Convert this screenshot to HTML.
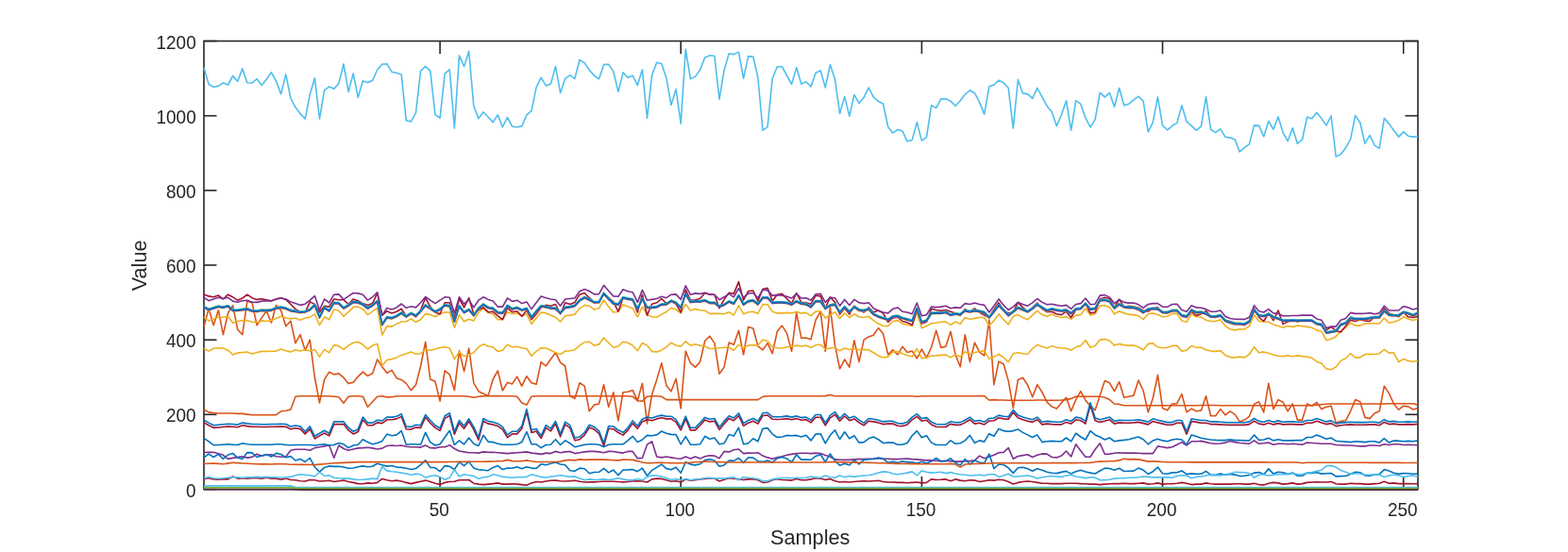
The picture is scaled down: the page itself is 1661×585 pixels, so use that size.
<!DOCTYPE html>
<html><head><meta charset="utf-8"><title>Samples / Value</title>
<style>
html,body{margin:0;padding:0;background:#fff;}
body{width:1661px;height:585px;overflow:hidden;}
svg{display:block;}
text{font-family:"Liberation Sans",sans-serif;fill:#262626;}
.t{font-size:20px;}
.l{font-size:22.6px;}
</style></head><body>
<svg width="1661" height="585" viewBox="0 0 1661 585">
<rect width="1661" height="585" fill="#fff"/>
<g stroke="#262626" stroke-width="1.6" fill="none">
<rect x="216.0" y="43.5" width="1286.0" height="475.0"/>
<line x1="466.1" y1="518.5" x2="466.1" y2="505.0"/>
<line x1="466.1" y1="43.5" x2="466.1" y2="57.0"/>
<line x1="721.2" y1="518.5" x2="721.2" y2="505.0"/>
<line x1="721.2" y1="43.5" x2="721.2" y2="57.0"/>
<line x1="976.4" y1="518.5" x2="976.4" y2="505.0"/>
<line x1="976.4" y1="43.5" x2="976.4" y2="57.0"/>
<line x1="1231.5" y1="518.5" x2="1231.5" y2="505.0"/>
<line x1="1231.5" y1="43.5" x2="1231.5" y2="57.0"/>
<line x1="1486.7" y1="518.5" x2="1486.7" y2="505.0"/>
<line x1="1486.7" y1="43.5" x2="1486.7" y2="57.0"/>
<line x1="216.0" y1="518.5" x2="229.5" y2="518.5"/>
<line x1="1502.0" y1="518.5" x2="1488.5" y2="518.5"/>
<line x1="216.0" y1="439.3" x2="229.5" y2="439.3"/>
<line x1="1502.0" y1="439.3" x2="1488.5" y2="439.3"/>
<line x1="216.0" y1="360.2" x2="229.5" y2="360.2"/>
<line x1="1502.0" y1="360.2" x2="1488.5" y2="360.2"/>
<line x1="216.0" y1="281.0" x2="229.5" y2="281.0"/>
<line x1="1502.0" y1="281.0" x2="1488.5" y2="281.0"/>
<line x1="216.0" y1="201.8" x2="229.5" y2="201.8"/>
<line x1="1502.0" y1="201.8" x2="1488.5" y2="201.8"/>
<line x1="216.0" y1="122.7" x2="229.5" y2="122.7"/>
<line x1="1502.0" y1="122.7" x2="1488.5" y2="122.7"/>
<line x1="216.0" y1="43.5" x2="229.5" y2="43.5"/>
<line x1="1502.0" y1="43.5" x2="1488.5" y2="43.5"/>
</g>
<g fill="none" stroke-linejoin="round" stroke-linecap="butt">
<polyline points="216.0,346.4 221.1,326.9 226.2,344.7 231.3,328.7 236.4,354.7 241.5,331.8 246.6,323.6 251.7,349.1 256.8,354.7 261.9,319.1 267.0,320.7 272.1,344.7 277.2,336.9 282.3,329.6 287.4,342.0 292.5,323.6 297.7,329.1 302.8,345.8 307.9,340.2 313.0,363.6 318.1,354.7 323.2,371.3 328.3,360.2 333.4,400.0 338.5,426.9 343.6,402.4 348.7,394.2 353.8,396.9 358.9,395.8 364.0,400.2 369.1,406.4 374.2,405.3 379.3,399.1 384.4,394.2 389.5,398.4 394.6,395.8 399.7,380.9 404.8,388.7 409.9,395.3 415.0,392.4 420.1,400.7 425.2,402.4 430.3,406.4 435.4,413.6 440.5,408.0 445.6,388.0 450.7,362.4 455.8,402.0 461.0,404.2 466.1,425.1 471.2,392.9 476.3,396.9 481.4,413.6 486.5,371.8 491.6,393.6 496.7,369.1 501.8,405.8 506.9,414.7 512.0,417.3 517.1,419.6 522.2,402.0 527.3,392.9 532.4,414.0 537.5,405.3 542.6,406.9 547.7,399.1 552.8,409.1 557.9,398.7 563.0,405.8 568.1,407.3 573.2,383.6 578.3,388.0 583.4,380.7 588.5,373.6 593.6,384.2 598.7,388.0 603.8,419.8 608.9,422.4 614.0,405.8 619.2,409.1 624.3,435.8 629.4,429.1 634.5,428.0 639.6,407.6 644.7,431.3 649.8,415.8 654.9,445.8 660.0,415.8 665.1,415.3 670.2,413.6 675.3,424.7 680.4,406.2 685.5,448.9 690.6,418.0 695.7,402.4 700.8,384.7 705.9,408.4 711.0,414.7 716.1,401.3 721.2,432.9 726.3,372.0 731.4,384.7 736.5,389.1 741.6,383.6 746.7,361.3 751.8,356.2 756.9,363.6 762.0,396.2 767.1,389.1 772.2,363.1 777.3,365.3 782.5,350.2 787.6,375.8 792.7,346.4 797.8,348.0 802.9,366.9 808.0,370.9 813.1,363.6 818.2,374.7 823.3,351.3 828.4,345.1 833.5,353.1 838.6,372.4 843.7,331.3 848.8,358.4 853.9,358.0 859.0,359.8 864.1,339.1 869.2,330.2 874.3,372.4 879.4,325.8 884.5,365.8 889.6,390.9 894.7,380.9 899.8,389.1 904.9,360.7 910.0,383.6 915.1,360.2 920.2,356.9 925.3,355.3 930.4,347.6 935.5,353.6 940.7,375.8 945.8,370.9 950.9,375.8 956.0,367.3 961.1,373.6 966.2,372.0 971.3,379.8 976.4,370.2 981.5,379.1 986.6,368.0 991.7,350.2 996.8,368.4 1001.9,367.3 1007.0,351.3 1012.1,375.8 1017.2,388.7 1022.3,354.7 1027.4,383.6 1032.5,363.1 1037.6,373.1 1042.7,376.9 1047.8,339.1 1052.9,407.6 1058.0,383.1 1063.1,385.8 1068.2,403.6 1073.3,432.4 1078.4,402.4 1083.5,400.2 1088.6,408.0 1093.7,420.7 1098.8,407.6 1104.0,415.8 1109.1,426.2 1114.2,430.9 1119.3,433.1 1124.4,426.9 1129.5,421.3 1134.6,435.8 1139.7,423.6 1144.8,414.7 1149.9,424.2 1155.0,430.2 1160.1,434.7 1165.2,419.1 1170.3,403.6 1175.4,405.8 1180.5,414.7 1185.6,404.7 1190.7,421.3 1195.8,420.2 1200.9,419.1 1206.0,403.1 1211.1,414.0 1216.2,436.9 1221.3,422.0 1226.4,397.3 1231.5,432.4 1236.6,434.7 1241.7,428.0 1246.8,427.6 1251.9,417.6 1257.0,436.9 1262.2,433.1 1267.3,435.8 1272.4,434.9 1277.5,419.7 1282.6,440.8 1287.7,440.8 1292.8,433.6 1297.9,439.8 1303.0,435.8 1308.1,439.1 1313.2,446.9 1318.3,445.1 1323.4,441.3 1328.5,428.4 1333.6,425.8 1338.7,436.9 1343.8,406.4 1348.9,433.6 1354.0,423.6 1359.1,426.2 1364.2,435.8 1369.3,428.0 1374.4,445.1 1379.5,445.1 1384.6,428.0 1389.7,430.2 1394.8,426.4 1399.9,433.6 1405.0,431.3 1410.1,430.2 1415.2,448.0 1420.3,446.4 1425.5,445.8 1430.6,435.8 1435.7,423.6 1440.8,425.8 1445.9,442.4 1451.0,443.6 1456.1,438.0 1461.2,435.8 1466.3,409.1 1471.4,416.9 1476.5,428.0 1481.6,434.2 1486.7,430.2 1491.8,430.9 1496.9,434.0 1502.0,432.4" stroke="#D95319" stroke-width="1.6"/>
<polyline points="216.0,434.0 221.1,436.9 226.2,437.6 231.3,438.0 236.4,438.0 241.5,438.0 246.6,438.0 251.7,438.4 256.8,438.4 261.9,439.1 267.0,439.8 272.1,439.8 277.2,439.8 282.3,439.8 287.4,439.8 292.5,439.6 297.7,435.8 302.8,435.3 307.9,434.0 313.0,420.2 318.1,419.8 323.2,419.8 328.3,419.8 333.4,419.8 338.5,419.8 343.6,419.8 348.7,419.8 353.8,420.2 358.9,420.7 364.0,427.3 369.1,420.2 374.2,419.8 379.3,419.8 384.4,420.2 389.5,431.3 394.6,425.8 399.7,420.2 404.8,419.8 409.9,420.9 415.0,420.7 420.1,419.8 425.2,419.8 430.3,419.8 435.4,419.8 440.5,419.8 445.6,419.8 450.7,419.8 455.8,419.8 461.0,419.8 466.1,419.8 471.2,419.8 476.3,419.8 481.4,419.8 486.5,419.8 491.6,419.8 496.7,420.2 501.8,421.3 506.9,420.2 512.0,419.8 517.1,419.8 522.2,419.6 527.3,419.6 532.4,419.8 537.5,419.8 542.6,419.8 547.7,420.2 552.8,426.9 557.9,429.1 563.0,420.2 568.1,419.8 573.2,419.8 578.3,419.8 583.4,419.8 588.5,419.8 593.6,419.8 598.7,419.8 603.8,419.8 608.9,419.8 614.0,419.8 619.2,419.8 624.3,419.8 629.4,419.8 634.5,419.8 639.6,419.8 644.7,419.8 649.8,419.8 654.9,419.8 660.0,419.8 665.1,419.8 670.2,420.2 675.3,424.7 680.4,425.1 685.5,420.2 690.6,419.8 695.7,419.8 700.8,420.2 705.9,423.6 711.0,423.6 716.1,423.6 721.2,423.6 726.3,423.6 731.4,423.6 736.5,423.6 741.6,423.6 746.7,423.6 751.8,423.6 756.9,423.6 762.0,423.6 767.1,423.6 772.2,423.6 777.3,423.6 782.5,423.6 787.6,423.6 792.7,423.6 797.8,423.6 802.9,423.6 808.0,420.4 813.1,419.8 818.2,419.8 823.3,419.8 828.4,419.8 833.5,419.8 838.6,419.8 843.7,419.8 848.8,419.8 853.9,419.8 859.0,419.8 864.1,419.8 869.2,419.8 874.3,419.6 879.4,418.4 884.5,419.8 889.6,419.8 894.7,419.8 899.8,419.8 904.9,419.8 910.0,419.8 915.1,419.8 920.2,419.8 925.3,419.8 930.4,419.8 935.5,419.8 940.7,419.8 945.8,419.8 950.9,419.8 956.0,419.8 961.1,419.8 966.2,419.8 971.3,420.2 976.4,419.8 981.5,419.8 986.6,419.8 991.7,419.8 996.8,419.8 1001.9,419.8 1007.0,419.8 1012.1,419.8 1017.2,419.8 1022.3,419.8 1027.4,419.8 1032.5,419.8 1037.6,419.6 1042.7,419.6 1047.8,424.0 1052.9,423.6 1058.0,424.0 1063.1,424.0 1068.2,424.2 1073.3,424.2 1078.4,424.2 1083.5,424.2 1088.6,424.2 1093.7,424.2 1098.8,424.0 1104.0,424.0 1109.1,424.2 1114.2,424.2 1119.3,424.2 1124.4,424.0 1129.5,423.6 1134.6,422.4 1139.7,420.2 1144.8,420.2 1149.9,420.2 1155.0,420.2 1160.1,420.2 1165.2,420.2 1170.3,421.3 1175.4,423.6 1180.5,428.0 1185.6,428.4 1190.7,429.8 1195.8,429.8 1200.9,429.8 1206.0,429.8 1211.1,429.8 1216.2,429.8 1221.3,429.8 1226.4,429.8 1231.5,429.8 1236.6,429.8 1241.7,429.8 1246.8,429.8 1251.9,429.8 1257.0,429.8 1262.2,429.8 1267.3,429.8 1272.4,429.5 1277.5,429.5 1282.6,429.5 1287.7,429.5 1292.8,429.8 1297.9,429.8 1303.0,429.8 1308.1,429.8 1313.2,429.8 1318.3,429.8 1323.4,429.8 1328.5,429.8 1333.6,429.8 1338.7,429.8 1343.8,429.8 1348.9,429.8 1354.0,429.8 1359.1,429.8 1364.2,429.8 1369.3,429.8 1374.4,429.8 1379.5,429.8 1384.6,429.8 1389.7,429.6 1394.8,429.1 1399.9,428.7 1405.0,428.2 1410.1,428.0 1415.2,428.0 1420.3,428.0 1425.5,428.0 1430.6,428.0 1435.7,428.0 1440.8,428.0 1445.9,428.0 1451.0,428.0 1456.1,428.0 1461.2,428.0 1466.3,428.0 1471.4,427.8 1476.5,427.8 1481.6,427.8 1486.7,427.8 1491.8,427.8 1496.9,427.8 1502.0,429.1" stroke="#D95319" stroke-width="1.6"/>
<polyline points="216.0,369.5 221.1,372.1 226.2,369.2 231.3,368.8 236.4,369.0 241.5,371.2 246.6,375.9 251.7,374.1 256.8,373.5 261.9,373.1 267.0,375.0 272.1,373.5 277.2,372.4 282.3,372.4 287.4,372.3 292.5,372.1 297.7,369.9 302.8,371.8 307.9,372.9 313.0,370.7 318.1,372.1 323.2,370.4 328.3,372.1 333.4,370.4 338.5,378.1 343.6,370.4 348.7,373.8 353.8,365.6 358.9,366.6 364.0,370.4 369.1,366.1 374.2,363.2 379.3,362.2 384.4,365.3 389.5,370.0 394.6,366.1 399.7,364.4 404.8,387.5 409.9,381.5 415.0,380.6 420.1,378.9 425.2,376.4 430.3,374.7 435.4,372.9 440.5,375.2 445.6,374.7 450.7,370.4 455.8,371.2 461.0,370.0 466.1,368.3 471.2,367.8 476.3,369.0 481.4,380.6 486.5,372.9 491.6,377.6 496.7,375.9 501.8,373.8 506.9,367.8 512.0,364.7 517.1,367.0 522.2,367.8 527.3,372.4 532.4,371.2 537.5,365.3 542.6,367.8 547.7,367.3 552.8,368.7 557.9,369.5 563.0,377.2 568.1,372.4 573.2,368.7 578.3,369.0 583.4,371.2 588.5,373.8 593.6,375.5 598.7,372.1 603.8,371.8 608.9,370.7 614.0,366.1 619.2,362.7 624.3,362.2 629.4,366.1 634.5,364.9 639.6,358.1 644.7,363.2 649.8,368.3 654.9,367.0 660.0,362.2 665.1,363.2 670.2,366.1 675.3,371.8 680.4,363.5 685.5,366.1 690.6,372.4 695.7,372.9 700.8,371.2 705.9,367.8 711.0,363.2 716.1,366.1 721.2,367.0 726.3,361.8 731.4,366.1 736.5,364.7 741.6,366.1 746.7,367.0 751.8,369.5 756.9,369.5 762.0,368.7 767.1,368.3 772.2,368.3 777.3,371.2 782.5,365.3 787.6,368.7 792.7,366.1 797.8,365.6 802.9,366.1 808.0,360.1 813.1,361.5 818.2,367.8 823.3,368.7 828.4,369.0 833.5,367.8 838.6,367.3 843.7,366.1 848.8,367.0 853.9,366.1 859.0,368.3 864.1,365.6 869.2,365.3 874.3,370.0 879.4,369.0 884.5,368.3 889.6,371.8 894.7,369.0 899.8,370.4 904.9,369.5 910.0,370.7 915.1,370.4 920.2,370.7 925.3,373.8 930.4,376.9 935.5,378.9 940.7,378.1 945.8,372.9 950.9,372.6 956.0,374.7 961.1,376.4 966.2,378.1 971.3,369.5 976.4,379.8 981.5,378.9 986.6,377.2 991.7,376.9 996.8,376.4 1001.9,376.0 1007.0,378.9 1012.1,375.9 1017.2,378.1 1022.3,372.9 1027.4,375.2 1032.5,373.5 1037.6,372.4 1042.7,371.8 1047.8,380.3 1052.9,378.1 1058.0,375.5 1063.1,378.9 1068.2,383.7 1073.3,374.7 1078.4,373.8 1083.5,374.7 1088.6,375.2 1093.7,369.5 1098.8,365.3 1104.0,367.3 1109.1,369.0 1114.2,366.6 1119.3,368.3 1124.4,369.0 1129.5,369.0 1134.6,371.2 1139.7,367.8 1144.8,366.6 1149.9,360.5 1155.0,368.3 1160.1,366.6 1165.2,360.1 1170.3,359.6 1175.4,361.0 1180.5,366.1 1185.6,364.4 1190.7,365.6 1195.8,366.1 1200.9,366.1 1206.0,367.8 1211.1,370.7 1216.2,364.4 1221.3,363.9 1226.4,367.8 1231.5,368.7 1236.6,368.3 1241.7,366.4 1246.8,366.4 1251.9,372.1 1257.0,371.2 1262.2,366.6 1267.3,368.3 1272.4,368.3 1277.5,370.7 1282.6,372.1 1287.7,372.4 1292.8,371.6 1297.9,376.4 1303.0,378.6 1308.1,378.9 1313.2,378.1 1318.3,378.9 1323.4,375.5 1328.5,367.8 1333.6,373.8 1338.7,372.9 1343.8,374.3 1348.9,376.0 1354.0,377.2 1359.1,377.6 1364.2,376.9 1369.3,377.7 1374.4,376.9 1379.5,377.6 1384.6,378.1 1389.7,379.3 1394.8,383.2 1399.9,384.9 1405.0,390.9 1410.1,391.8 1415.2,388.9 1420.3,382.4 1425.5,379.8 1430.6,374.7 1435.7,378.9 1440.8,378.9 1445.9,375.5 1451.0,375.2 1456.1,375.5 1461.2,374.7 1466.3,370.4 1471.4,374.1 1476.5,373.8 1481.6,383.7 1486.7,380.3 1491.8,382.4 1496.9,383.2 1502.0,382.0" stroke="#EDB120" stroke-width="1.6"/>
<polyline points="216.0,336.2 221.1,339.9 226.2,337.9 231.3,336.2 236.4,336.2 241.5,335.3 246.6,342.2 251.7,340.5 256.8,339.6 261.9,339.6 267.0,341.3 272.1,341.8 277.2,339.9 282.3,340.5 287.4,339.6 292.5,337.5 297.7,335.3 302.8,337.0 307.9,337.9 313.0,337.0 318.1,339.3 323.2,337.0 328.3,336.2 333.4,332.8 338.5,344.7 343.6,335.8 348.7,338.7 353.8,328.0 358.9,329.3 364.0,335.3 369.1,330.7 374.2,325.6 379.3,325.1 384.4,327.6 389.5,333.6 394.6,330.2 399.7,326.4 404.8,355.0 409.9,345.6 415.0,346.1 420.1,343.4 425.2,341.0 430.3,340.8 435.4,337.9 440.5,341.3 445.6,338.7 450.7,332.4 455.8,333.6 461.0,335.8 466.1,332.8 471.2,330.7 476.3,331.0 481.4,347.3 486.5,333.6 491.6,340.8 496.7,338.2 501.8,339.9 506.9,331.0 512.0,326.8 517.1,331.4 522.2,332.8 527.3,338.7 532.4,338.7 537.5,330.5 542.6,332.8 547.7,331.9 552.8,334.8 557.9,332.8 563.0,343.4 568.1,337.0 573.2,331.0 578.3,331.9 583.4,334.1 588.5,336.2 593.6,341.0 598.7,334.8 603.8,334.1 608.9,333.1 614.0,326.8 619.2,323.4 624.3,324.2 629.4,328.0 634.5,326.8 639.6,318.2 644.7,325.1 649.8,331.0 654.9,330.2 660.0,322.8 665.1,325.1 670.2,326.8 675.3,335.8 680.4,325.1 685.5,333.6 690.6,335.8 695.7,336.2 700.8,333.1 705.9,330.5 711.0,326.3 716.1,328.0 721.2,331.9 726.3,322.5 731.4,329.0 736.5,327.6 741.6,328.8 746.7,329.3 751.8,332.4 756.9,332.2 762.0,332.4 767.1,332.8 772.2,330.7 777.3,334.0 782.5,323.9 787.6,332.8 792.7,330.7 797.8,330.2 802.9,332.2 808.0,322.5 813.1,322.8 818.2,330.2 823.3,331.9 828.4,331.9 833.5,331.4 838.6,331.9 843.7,330.2 848.8,331.9 853.9,331.4 859.0,334.8 864.1,330.2 869.2,329.7 874.3,337.0 879.4,333.6 884.5,330.7 889.6,337.4 894.7,331.9 899.8,336.5 904.9,332.8 910.0,335.8 915.1,336.5 920.2,335.3 925.3,339.6 930.4,343.0 935.5,345.2 940.7,345.6 945.8,340.5 950.9,339.6 956.0,343.0 961.1,344.2 966.2,345.6 971.3,331.0 976.4,347.8 981.5,345.6 986.6,342.7 991.7,342.2 996.8,341.3 1001.9,340.8 1007.0,344.4 1012.1,341.0 1017.2,343.4 1022.3,336.5 1027.4,338.2 1032.5,337.4 1037.6,336.5 1042.7,336.5 1047.8,345.2 1052.9,339.9 1058.0,332.8 1063.1,338.7 1068.2,343.9 1073.3,335.3 1078.4,333.6 1083.5,336.5 1088.6,338.7 1093.7,334.1 1098.8,329.3 1104.0,333.6 1109.1,335.3 1114.2,333.1 1119.3,335.3 1124.4,336.5 1129.5,335.8 1134.6,338.4 1139.7,334.1 1144.8,333.6 1149.9,326.8 1155.0,334.1 1160.1,332.8 1165.2,323.9 1170.3,323.7 1175.4,325.4 1180.5,332.8 1185.6,329.7 1190.7,331.9 1195.8,333.1 1200.9,333.6 1206.0,334.8 1211.1,338.4 1216.2,332.8 1221.3,331.9 1226.4,333.6 1231.5,335.8 1236.6,335.3 1241.7,332.4 1246.8,332.4 1251.9,339.9 1257.0,341.3 1262.2,332.8 1267.3,335.8 1272.4,335.8 1277.5,339.3 1282.6,340.5 1287.7,340.5 1292.8,338.7 1297.9,345.6 1303.0,348.7 1308.1,349.9 1313.2,348.7 1318.3,349.0 1323.4,345.6 1328.5,333.6 1333.6,340.5 1338.7,341.0 1343.8,341.3 1348.9,343.9 1354.0,345.6 1359.1,347.3 1364.2,345.6 1369.3,346.4 1374.4,345.1 1379.5,345.6 1384.6,346.4 1389.7,347.3 1394.8,349.9 1399.9,351.2 1405.0,360.5 1410.1,359.3 1415.2,356.7 1420.3,350.7 1425.5,347.3 1430.6,342.2 1435.7,345.1 1440.8,345.1 1445.9,343.0 1451.0,342.7 1456.1,342.7 1461.2,343.0 1466.3,337.0 1471.4,342.2 1476.5,341.3 1481.6,339.6 1486.7,335.8 1491.8,337.9 1496.9,339.6 1502.0,337.9" stroke="#EDB120" stroke-width="1.6"/>
<polyline points="216.0,507.4 221.1,506.8 226.2,507.9 231.3,508.3 236.4,507.9 241.5,507.9 246.6,505.0 251.7,507.1 256.8,506.8 261.9,507.1 267.0,506.8 272.1,506.8 277.2,507.1 282.3,506.2 287.4,507.1 292.5,507.1 297.7,508.3 302.8,507.1 307.9,508.5 313.0,508.8 318.1,509.7 323.2,510.0 328.3,508.5 333.4,508.8 338.5,510.0 343.6,509.7 348.7,509.3 353.8,510.5 358.9,509.7 364.0,509.1 369.1,510.5 374.2,511.4 379.3,512.6 384.4,512.7 389.5,511.9 394.6,512.2 399.7,511.4 404.8,507.4 409.9,508.8 415.0,509.7 420.1,509.1 425.2,510.0 430.3,511.4 435.4,512.6 440.5,511.4 445.6,510.2 450.7,509.1 455.8,510.5 461.0,512.2 466.1,513.4 471.2,511.4 476.3,510.5 481.4,510.2 486.5,508.8 491.6,508.8 496.7,508.5 501.8,512.2 506.9,513.1 512.0,513.6 517.1,513.1 522.2,512.6 527.3,511.9 532.4,513.1 537.5,513.1 542.6,512.7 547.7,513.1 552.8,513.6 557.9,514.3 563.0,511.9 568.1,510.5 573.2,511.0 578.3,510.0 583.4,509.3 588.5,509.1 593.6,509.7 598.7,510.0 603.8,509.7 608.9,509.3 614.0,510.2 619.2,511.0 624.3,510.9 629.4,510.9 634.5,510.5 639.6,510.2 644.7,510.2 649.8,510.2 654.9,510.5 660.0,510.9 665.1,510.5 670.2,510.0 675.3,509.7 680.4,510.0 685.5,511.0 690.6,507.9 695.7,507.1 700.8,507.4 705.9,508.8 711.0,510.2 716.1,509.7 721.2,511.0 726.3,507.9 731.4,509.1 736.5,508.8 741.6,507.9 746.7,507.4 751.8,506.8 756.9,507.1 762.0,510.0 767.1,508.3 772.2,506.8 777.3,507.1 782.5,507.9 787.6,508.5 792.7,507.9 797.8,507.6 802.9,508.8 808.0,511.4 813.1,511.0 818.2,508.8 823.3,507.6 828.4,508.5 833.5,508.8 838.6,509.1 843.7,507.4 848.8,508.8 853.9,508.8 859.0,507.9 864.1,506.8 869.2,507.1 874.3,508.5 879.4,507.4 884.5,509.7 889.6,511.0 894.7,510.5 899.8,511.0 904.9,510.5 910.0,510.0 915.1,509.7 920.2,510.0 925.3,509.7 930.4,509.3 935.5,510.5 940.7,511.0 945.8,511.0 950.9,511.4 956.0,511.4 961.1,511.7 966.2,511.4 971.3,511.0 976.4,511.9 981.5,511.4 986.6,507.9 991.7,508.5 996.8,508.3 1001.9,507.9 1007.0,509.7 1012.1,507.9 1017.2,509.1 1022.3,509.7 1027.4,508.8 1032.5,509.1 1037.6,510.5 1042.7,509.7 1047.8,508.8 1052.9,509.1 1058.0,508.3 1063.1,508.8 1068.2,510.5 1073.3,513.1 1078.4,511.4 1083.5,510.5 1088.6,510.0 1093.7,510.5 1098.8,511.4 1104.0,512.2 1109.1,512.2 1114.2,512.6 1119.3,512.6 1124.4,512.6 1129.5,512.2 1134.6,512.2 1139.7,512.2 1144.8,512.6 1149.9,512.7 1155.0,513.1 1160.1,513.1 1165.2,513.6 1170.3,513.1 1175.4,512.7 1180.5,512.6 1185.6,512.6 1190.7,512.2 1195.8,512.6 1200.9,512.6 1206.0,512.2 1211.1,511.9 1216.2,513.1 1221.3,512.7 1226.4,511.9 1231.5,513.1 1236.6,512.7 1241.7,512.6 1246.8,512.2 1251.9,511.4 1257.0,512.2 1262.2,513.6 1267.3,513.1 1272.4,513.1 1277.5,511.9 1282.6,512.7 1287.7,513.1 1292.8,513.1 1297.9,513.1 1303.0,513.1 1308.1,512.7 1313.2,512.7 1318.3,513.1 1323.4,513.1 1328.5,512.2 1333.6,513.6 1338.7,513.9 1343.8,512.2 1348.9,511.4 1354.0,511.9 1359.1,513.1 1364.2,512.6 1369.3,511.9 1374.4,513.1 1379.5,512.6 1384.6,511.4 1389.7,511.0 1394.8,510.9 1399.9,511.0 1405.0,511.0 1410.1,510.5 1415.2,512.7 1420.3,513.1 1425.5,513.1 1430.6,512.2 1435.7,512.6 1440.8,512.6 1445.9,513.1 1451.0,513.1 1456.1,512.6 1461.2,512.2 1466.3,510.2 1471.4,512.2 1476.5,511.9 1481.6,512.6 1486.7,512.6 1491.8,512.6 1496.9,512.7 1502.0,512.6" stroke="#A2142F" stroke-width="1.6"/>
<polyline points="216.0,479.5 221.1,479.4 226.2,479.2 231.3,480.8 236.4,482.3 241.5,486.4 246.6,485.4 251.7,484.6 256.8,483.8 261.9,485.1 267.0,484.4 272.1,481.2 277.2,483.3 282.3,482.0 287.4,481.7 292.5,483.8 297.7,484.3 302.8,484.0 307.9,477.2 313.0,476.3 318.1,476.3 323.2,476.3 328.3,477.2 333.4,474.6 338.5,473.7 343.6,472.9 348.7,472.0 353.8,485.2 358.9,472.0 364.0,475.5 369.1,477.2 374.2,476.0 379.3,474.9 384.4,474.6 389.5,474.3 394.6,474.9 399.7,476.0 404.8,475.1 409.9,472.5 415.0,472.0 420.1,472.5 425.2,472.0 430.3,473.2 435.4,473.7 440.5,473.7 445.6,474.1 450.7,472.0 455.8,474.6 461.0,474.9 466.1,473.7 471.2,473.7 476.3,471.7 481.4,475.5 486.5,478.0 491.6,478.9 496.7,479.7 501.8,479.7 506.9,480.1 512.0,478.9 517.1,479.4 522.2,479.2 527.3,479.7 532.4,480.1 537.5,480.6 542.6,480.1 547.7,479.7 552.8,479.4 557.9,478.9 563.0,480.1 568.1,480.6 573.2,481.4 578.3,480.1 583.4,480.6 588.5,478.4 593.6,479.7 598.7,478.9 603.8,478.5 608.9,480.6 614.0,479.7 619.2,478.9 624.3,478.4 629.4,478.4 634.5,478.9 639.6,479.7 644.7,478.4 649.8,478.5 654.9,479.4 660.0,480.1 665.1,478.4 670.2,478.4 675.3,485.7 680.4,485.4 685.5,471.2 690.6,467.8 695.7,484.0 700.8,484.9 705.9,484.0 711.0,484.9 716.1,485.7 721.2,486.2 726.3,484.0 731.4,486.1 736.5,484.0 741.6,486.1 746.7,483.7 751.8,482.8 756.9,483.1 762.0,485.7 767.1,478.4 772.2,478.9 777.3,476.7 782.5,476.0 787.6,480.6 792.7,480.1 797.8,480.2 802.9,479.7 808.0,483.1 813.1,484.9 818.2,486.2 823.3,484.9 828.4,483.7 833.5,482.3 838.6,481.4 843.7,480.6 848.8,480.2 853.9,480.2 859.0,480.6 864.1,480.1 869.2,480.6 874.3,482.6 879.4,484.0 884.5,486.9 889.6,487.4 894.7,487.4 899.8,487.4 904.9,486.9 910.0,486.6 915.1,486.6 920.2,486.2 925.3,486.1 930.4,485.7 935.5,486.2 940.7,486.2 945.8,486.6 950.9,486.6 956.0,486.2 961.1,486.1 966.2,486.6 971.3,486.9 976.4,487.4 981.5,487.9 986.6,487.9 991.7,488.3 996.8,488.6 1001.9,488.3 1007.0,488.6 1012.1,489.1 1017.2,489.1 1022.3,488.6 1027.4,488.6 1032.5,487.9 1037.6,483.1 1042.7,485.7 1047.8,484.0 1052.9,482.3 1058.0,479.7 1063.1,479.4 1068.2,474.6 1073.3,486.2 1078.4,483.5 1083.5,482.6 1088.6,481.8 1093.7,484.5 1098.8,482.3 1104.0,480.9 1109.1,481.1 1114.2,484.5 1119.3,484.9 1124.4,483.1 1129.5,478.0 1134.6,484.0 1139.7,470.8 1144.8,477.7 1149.9,484.3 1155.0,484.3 1160.1,476.3 1165.2,469.8 1170.3,481.4 1175.4,481.1 1180.5,480.2 1185.6,479.7 1190.7,480.1 1195.8,480.1 1200.9,480.1 1206.0,480.2 1211.1,480.6 1216.2,480.6 1221.3,480.6 1226.4,472.9 1231.5,473.7 1236.6,474.6 1241.7,473.7 1246.8,471.2 1251.9,468.6 1257.0,472.0 1262.2,467.8 1267.3,467.8 1272.4,467.4 1277.5,468.6 1282.6,469.8 1287.7,470.3 1292.8,470.0 1297.9,469.1 1303.0,467.4 1308.1,468.6 1313.2,469.5 1318.3,469.8 1323.4,470.3 1328.5,466.9 1333.6,470.3 1338.7,469.8 1343.8,469.1 1348.9,471.2 1354.0,470.3 1359.1,470.3 1364.2,470.7 1369.3,470.3 1374.4,470.8 1379.5,471.2 1384.6,469.1 1389.7,469.5 1394.8,469.8 1399.9,470.3 1405.0,470.3 1410.1,470.3 1415.2,471.5 1420.3,471.7 1425.5,472.0 1430.6,472.0 1435.7,472.5 1440.8,472.9 1445.9,472.9 1451.0,472.0 1456.1,472.0 1461.2,472.5 1466.3,470.8 1471.4,471.5 1476.5,470.8 1481.6,470.8 1486.7,471.5 1491.8,471.2 1496.9,471.5 1502.0,471.7" stroke="#7E2F8E" stroke-width="1.6"/>
<polyline points="216.0,484.8 221.1,481.1 226.2,484.5 231.3,481.4 236.4,486.4 241.5,482.0 246.6,480.4 251.7,485.3 256.8,486.4 261.9,479.6 267.0,479.9 272.1,484.5 277.2,483.0 282.3,481.6 287.4,484.0 292.5,480.4 297.7,481.5 302.8,484.7 307.9,483.6 313.0,488.0 318.1,486.4 323.2,489.5 328.3,485.4 333.4,495.0 338.5,500.1 343.6,495.4 348.7,493.9 353.8,494.4 358.9,494.2 364.0,495.0 369.1,496.2 374.2,496.0 379.3,494.8 384.4,493.9 389.5,494.7 394.6,494.2 399.7,491.3 404.8,492.8 409.9,494.1 415.0,493.5 420.1,495.1 425.2,495.4 430.3,496.2 435.4,497.5 440.5,496.5 445.6,492.7 450.7,487.8 455.8,495.4 461.0,495.8 466.1,499.7 471.2,493.6 476.3,494.4 481.4,497.5 486.5,489.6 491.6,493.7 496.7,489.1 501.8,496.1 506.9,497.8 512.0,498.3 517.1,498.7 522.2,495.4 527.3,493.6 532.4,497.6 537.5,496.0 542.6,496.3 547.7,494.8 552.8,496.7 557.9,494.7 563.0,496.1 568.1,496.4 573.2,491.8 578.3,492.7 583.4,491.3 588.5,489.9 593.6,492.0 598.7,492.7 603.8,498.7 608.9,499.2 614.0,496.1 619.2,496.7 624.3,501.8 629.4,500.5 634.5,500.3 639.6,496.4 644.7,500.9 649.8,498.0 654.9,503.7 660.0,498.0 665.1,497.9 670.2,497.5 675.3,499.7 680.4,496.2 685.5,504.3 690.6,498.4 695.7,495.4 700.8,492.1 705.9,496.6 711.0,497.8 716.1,495.2 721.2,501.2 726.3,489.7 731.4,492.1 736.5,492.9 741.6,491.8 746.7,487.6 751.8,486.7 756.9,488.0 762.0,494.3 767.1,492.9 772.2,488.0 777.3,488.4 782.5,485.5 787.6,490.4 792.7,484.8 797.8,485.1 802.9,488.7 808.0,489.4 813.1,488.0 818.2,490.2 823.3,485.7 828.4,484.5 833.5,486.1 838.6,489.7 843.7,481.9 848.8,487.1 853.9,487.0 859.0,487.3 864.1,483.4 869.2,481.7 874.3,489.7 879.4,480.9 884.5,488.5 889.6,493.2 894.7,491.3 899.8,492.9 904.9,487.5 910.0,491.8 915.1,487.4 920.2,486.8 925.3,486.5 930.4,485.0 935.5,486.1 940.7,490.4 945.8,489.4 950.9,490.4 956.0,488.8 961.1,489.9 966.2,489.7 971.3,491.1 976.4,489.3 981.5,491.0 986.6,488.9 991.7,485.5 996.8,489.0 1001.9,488.8 1007.0,485.8 1012.1,490.5 1017.2,492.9 1022.3,486.5 1027.4,492.0 1032.5,488.1 1037.6,490.0 1042.7,490.7 1047.8,481.1 1052.9,496.6 1058.0,492.0 1063.1,492.5 1068.2,495.9 1073.3,501.4 1078.4,495.7 1083.5,495.3 1088.6,496.8 1093.7,499.2 1098.8,496.7 1104.0,498.3 1109.1,500.3 1114.2,501.2 1119.3,501.6 1124.4,500.4 1129.5,499.4 1134.6,502.1 1139.7,499.8 1144.8,498.2 1149.9,500.0 1155.0,501.1 1160.1,502.0 1165.2,499.0 1170.3,496.1 1175.4,496.5 1180.5,498.2 1185.6,496.3 1190.7,499.5 1195.8,499.3 1200.9,499.1 1206.0,496.1 1211.1,498.2 1216.2,502.5 1221.3,499.7 1226.4,495.1 1231.5,501.7 1236.6,502.2 1241.7,500.9 1246.8,500.8 1251.9,498.9 1257.0,502.6 1262.2,501.9 1267.3,502.4 1272.4,502.2 1277.5,499.4 1282.6,503.4 1287.7,503.4 1292.8,502.0 1297.9,503.2 1303.0,502.4 1308.1,503.1 1313.2,504.6 1318.3,504.2 1323.4,503.5 1328.5,501.1 1333.6,500.6 1338.7,502.7 1343.8,496.9 1348.9,502.1 1354.0,500.2 1359.1,500.7 1364.2,502.5 1369.3,501.0 1374.4,504.3 1379.5,504.3 1384.6,501.1 1389.7,501.5 1394.8,500.8 1399.9,502.1 1405.0,501.7 1410.1,501.5 1415.2,504.9 1420.3,504.6 1425.5,504.5 1430.6,502.6 1435.7,500.3 1440.8,500.7 1445.9,503.9 1451.0,504.1 1456.1,503.0 1461.2,502.6 1466.3,497.6 1471.4,499.0 1476.5,501.2 1481.6,502.4 1486.7,501.6 1491.8,501.7 1496.9,502.3 1502.0,502.0" stroke="#0072BD" stroke-width="1.6"/>
<polyline points="216.0,491.5 221.1,491.2 226.2,491.0 231.3,491.4 236.4,491.8 241.5,491.1 246.6,490.3 251.7,490.6 256.8,491.0 261.9,491.3 267.0,491.5 272.1,491.8 277.2,491.9 282.3,491.9 287.4,492.0 292.5,491.6 297.7,491.7 302.8,491.7 307.9,492.2 313.0,492.3 318.1,492.4 323.2,492.4 328.3,492.5 333.4,492.6 338.5,492.1 343.6,491.7 348.7,491.3 353.8,490.8 358.9,490.6 364.0,490.4 369.1,490.1 374.2,489.9 379.3,489.6 384.4,489.6 389.5,489.6 394.6,489.6 399.7,489.6 404.8,489.6 409.9,489.6 415.0,489.6 420.1,489.6 425.2,489.6 430.3,489.6 435.4,489.6 440.5,489.6 445.6,489.6 450.7,489.6 455.8,489.6 461.0,489.6 466.1,489.6 471.2,489.6 476.3,489.5 481.4,489.5 486.5,489.4 491.6,489.4 496.7,489.3 501.8,489.3 506.9,489.2 512.0,489.2 517.1,489.1 522.2,489.0 527.3,488.8 532.4,488.6 537.5,487.4 542.6,488.6 547.7,488.7 552.8,488.8 557.9,487.9 563.0,488.8 568.1,489.5 573.2,489.5 578.3,489.5 583.4,489.5 588.5,489.5 593.6,489.1 598.7,487.9 603.8,487.4 608.9,487.9 614.0,486.9 619.2,487.4 624.3,487.1 629.4,487.1 634.5,487.1 639.6,487.1 644.7,487.4 649.8,487.7 654.9,487.9 660.0,487.1 665.1,487.3 670.2,487.4 675.3,488.6 680.4,490.0 685.5,490.8 690.6,490.8 695.7,490.3 700.8,490.4 705.9,490.5 711.0,490.6 716.1,490.7 721.2,490.8 726.3,490.5 731.4,490.2 736.5,489.8 741.6,489.5 746.7,489.1 751.8,489.3 756.9,489.5 762.0,489.6 767.1,489.8 772.2,490.0 777.3,490.0 782.5,490.0 787.6,490.0 792.7,490.0 797.8,490.0 802.9,490.0 808.0,490.0 813.1,490.0 818.2,490.0 823.3,490.0 828.4,490.0 833.5,490.0 838.6,490.0 843.7,490.0 848.8,490.0 853.9,490.0 859.0,490.0 864.1,490.0 869.2,490.0 874.3,490.0 879.4,489.5 884.5,489.6 889.6,489.7 894.7,489.9 899.8,490.0 904.9,490.1 910.0,490.2 915.1,490.3 920.2,490.4 925.3,490.5 930.4,490.7 935.5,490.8 940.7,491.0 945.8,491.2 950.9,491.4 956.0,491.4 961.1,491.5 966.2,491.6 971.3,491.6 976.4,491.7 981.5,491.7 986.6,491.7 991.7,491.7 996.8,491.7 1001.9,491.7 1007.0,491.4 1012.1,492.0 1017.2,495.1 1022.3,492.0 1027.4,491.7 1032.5,491.5 1037.6,491.4 1042.7,491.2 1047.8,491.0 1052.9,490.8 1058.0,490.8 1063.1,490.8 1068.2,490.8 1073.3,490.8 1078.4,490.8 1083.5,490.7 1088.6,490.7 1093.7,490.7 1098.8,490.7 1104.0,490.7 1109.1,490.7 1114.2,490.6 1119.3,490.6 1124.4,490.6 1129.5,490.6 1134.6,490.6 1139.7,490.6 1144.8,490.5 1149.9,490.5 1155.0,490.5 1160.1,489.5 1165.2,489.1 1170.3,489.0 1175.4,488.8 1180.5,488.6 1185.6,487.9 1190.7,486.2 1195.8,486.9 1200.9,486.6 1206.0,486.9 1211.1,487.9 1216.2,489.1 1221.3,488.8 1226.4,489.1 1231.5,489.5 1236.6,489.8 1241.7,489.8 1246.8,489.8 1251.9,489.8 1257.0,489.8 1262.2,489.9 1267.3,489.9 1272.4,489.9 1277.5,489.9 1282.6,489.9 1287.7,489.9 1292.8,489.9 1297.9,489.9 1303.0,489.9 1308.1,489.9 1313.2,489.9 1318.3,489.9 1323.4,489.9 1328.5,489.9 1333.6,489.9 1338.7,489.9 1343.8,490.0 1348.9,490.0 1354.0,490.0 1359.1,490.0 1364.2,490.0 1369.3,490.0 1374.4,490.0 1379.5,490.8 1384.6,490.2 1389.7,490.2 1394.8,490.2 1399.9,490.2 1405.0,490.2 1410.1,490.2 1415.2,490.3 1420.3,490.3 1425.5,490.3 1430.6,490.3 1435.7,490.3 1440.8,490.3 1445.9,490.3 1451.0,490.4 1456.1,490.4 1461.2,490.4 1466.3,490.4 1471.4,490.4 1476.5,490.4 1481.6,490.4 1486.7,490.5 1491.8,490.5 1496.9,490.5 1502.0,490.5" stroke="#D95319" stroke-width="1.6"/>
<polyline points="216.0,506.8 221.1,505.4 226.2,506.8 231.3,507.1 236.4,506.8 241.5,506.2 246.6,505.7 251.7,505.9 256.8,506.2 261.9,505.9 267.0,505.7 272.1,505.4 277.2,505.7 282.3,505.4 287.4,505.7 292.5,505.7 297.7,506.2 302.8,505.9 307.9,505.4 313.0,503.7 318.1,502.8 323.2,503.3 328.3,503.7 333.4,505.0 338.5,500.3 343.6,504.5 348.7,503.7 353.8,506.2 358.9,506.8 364.0,507.1 369.1,507.1 374.2,507.9 379.3,508.5 384.4,508.3 389.5,507.9 394.6,507.1 399.7,507.6 404.8,494.3 409.9,498.9 415.0,499.7 420.1,500.3 425.2,501.1 430.3,502.0 435.4,503.3 440.5,502.3 445.6,502.8 450.7,506.2 455.8,504.5 461.0,503.7 466.1,505.4 471.2,508.3 476.3,506.2 481.4,497.7 486.5,505.0 491.6,502.8 496.7,503.7 501.8,504.5 506.9,507.4 512.0,505.7 517.1,505.4 522.2,502.8 527.3,503.7 532.4,505.4 537.5,505.7 542.6,506.2 547.7,505.7 552.8,505.7 557.9,505.4 563.0,502.8 568.1,504.0 573.2,505.4 578.3,506.2 583.4,505.0 588.5,504.5 593.6,503.7 598.7,504.5 603.8,505.4 608.9,504.9 614.0,507.1 619.2,508.8 624.3,507.9 629.4,508.5 634.5,508.3 639.6,507.9 644.7,508.5 649.8,507.9 654.9,506.8 660.0,507.9 665.1,508.8 670.2,508.8 675.3,507.4 680.4,508.8 685.5,505.4 690.6,503.7 695.7,504.0 700.8,505.0 705.9,506.8 711.0,508.5 716.1,507.6 721.2,508.8 726.3,507.4 731.4,508.8 736.5,507.9 741.6,507.6 746.7,506.8 751.8,506.2 756.9,507.1 762.0,506.8 767.1,507.1 772.2,506.2 777.3,505.7 782.5,508.8 787.6,505.7 792.7,506.2 797.8,506.8 802.9,507.6 808.0,509.7 813.1,509.7 818.2,507.9 823.3,507.1 828.4,506.8 833.5,506.2 838.6,506.8 843.7,506.2 848.8,506.8 853.9,506.2 859.0,505.0 864.1,505.9 869.2,506.2 874.3,504.0 879.4,505.7 884.5,506.2 889.6,504.0 894.7,505.7 899.8,504.5 904.9,505.4 910.0,504.5 915.1,504.0 920.2,503.7 925.3,502.8 930.4,501.1 935.5,499.9 940.7,500.3 945.8,502.0 950.9,502.8 956.0,502.0 961.1,501.1 966.2,499.9 971.3,504.0 976.4,498.9 981.5,500.3 986.6,501.1 991.7,500.8 996.8,500.3 1001.9,501.6 1007.0,500.6 1012.1,502.0 1017.2,502.8 1022.3,503.3 1027.4,504.0 1032.5,503.7 1037.6,503.3 1042.7,504.0 1047.8,502.8 1052.9,502.5 1058.0,505.4 1063.1,504.0 1068.2,502.3 1073.3,505.0 1078.4,505.0 1083.5,504.5 1088.6,504.0 1093.7,505.0 1098.8,507.1 1104.0,505.7 1109.1,505.0 1114.2,504.5 1119.3,505.0 1124.4,505.4 1129.5,504.0 1134.6,503.3 1139.7,505.0 1144.8,505.7 1149.9,506.6 1155.0,505.7 1160.1,506.2 1165.2,508.8 1170.3,508.8 1175.4,508.3 1180.5,507.1 1185.6,506.8 1190.7,506.8 1195.8,506.2 1200.9,506.2 1206.0,505.7 1211.1,505.0 1216.2,505.4 1221.3,505.9 1226.4,505.9 1231.5,505.7 1236.6,505.9 1241.7,506.2 1246.8,504.5 1251.9,503.7 1257.0,504.0 1262.2,506.8 1267.3,505.4 1272.4,505.0 1277.5,504.0 1282.6,503.3 1287.7,503.7 1292.8,504.0 1297.9,502.8 1303.0,502.0 1308.1,500.3 1313.2,500.6 1318.3,500.8 1323.4,501.6 1328.5,506.2 1333.6,503.3 1338.7,502.8 1343.8,504.0 1348.9,503.3 1354.0,502.8 1359.1,502.5 1364.2,502.8 1369.3,501.6 1374.4,502.8 1379.5,502.8 1384.6,501.1 1389.7,500.6 1394.8,499.4 1399.9,498.2 1405.0,493.8 1410.1,493.4 1415.2,495.1 1420.3,498.5 1425.5,500.3 1430.6,502.3 1435.7,502.0 1440.8,502.0 1445.9,503.3 1451.0,503.3 1456.1,502.8 1461.2,503.3 1466.3,505.4 1471.4,504.0 1476.5,503.3 1481.6,504.0 1486.7,505.4 1491.8,504.5 1496.9,504.0 1502.0,505.0" stroke="#4DBEEE" stroke-width="1.6"/>
<polyline points="216.0,464.3 221.1,467.8 226.2,471.7 231.3,471.5 236.4,471.2 241.5,470.8 246.6,471.2 251.7,471.5 256.8,469.8 261.9,470.8 267.0,471.2 272.1,471.2 277.2,471.2 282.3,471.2 287.4,471.2 292.5,470.8 297.7,470.8 302.8,471.5 307.9,471.7 313.0,471.5 318.1,471.5 323.2,471.5 328.3,471.5 333.4,472.0 338.5,471.2 343.6,470.8 348.7,471.7 353.8,471.5 358.9,469.5 364.0,470.8 369.1,474.6 374.2,472.0 379.3,471.2 384.4,465.7 389.5,468.6 394.6,470.8 399.7,469.5 404.8,467.4 409.9,460.1 415.0,461.8 420.1,460.9 425.2,456.6 430.3,471.2 435.4,470.8 440.5,470.8 445.6,471.2 450.7,458.4 455.8,468.6 461.0,472.0 466.1,470.8 471.2,463.5 476.3,456.3 481.4,471.5 486.5,466.9 491.6,470.8 496.7,464.0 501.8,470.3 506.9,472.5 512.0,461.3 517.1,468.1 522.2,468.6 527.3,470.3 532.4,471.2 537.5,471.2 542.6,471.2 547.7,470.8 552.8,468.6 557.9,457.5 563.0,470.8 568.1,470.8 573.2,474.6 578.3,471.5 583.4,471.2 588.5,465.7 593.6,471.5 598.7,466.9 603.8,469.8 608.9,473.7 614.0,472.5 619.2,471.2 624.3,470.8 629.4,470.8 634.5,471.2 639.6,473.4 644.7,471.2 649.8,470.8 654.9,470.8 660.0,470.8 665.1,466.9 670.2,462.3 675.3,468.6 680.4,466.0 685.5,461.4 690.6,461.8 695.7,460.9 700.8,457.0 705.9,459.2 711.0,460.4 716.1,460.6 721.2,470.8 726.3,462.6 731.4,471.2 736.5,471.2 741.6,470.8 746.7,462.3 751.8,465.2 756.9,464.0 762.0,470.8 767.1,469.8 772.2,460.6 777.3,462.1 782.5,453.2 787.6,470.8 792.7,469.8 797.8,464.7 802.9,467.8 808.0,454.4 813.1,453.6 818.2,460.1 823.3,463.5 828.4,463.0 833.5,461.4 838.6,461.8 843.7,461.4 848.8,463.0 853.9,461.3 859.0,466.9 864.1,460.1 869.2,459.7 874.3,469.8 879.4,461.3 884.5,455.8 889.6,465.5 894.7,457.8 899.8,464.8 904.9,461.8 910.0,469.1 915.1,468.6 920.2,464.8 925.3,463.0 930.4,465.7 935.5,469.5 940.7,469.1 945.8,469.1 950.9,471.2 956.0,471.2 961.1,469.5 966.2,461.8 971.3,456.6 976.4,463.8 981.5,461.8 986.6,469.1 991.7,471.5 996.8,471.5 1001.9,471.5 1007.0,466.9 1012.1,470.3 1017.2,469.8 1022.3,466.9 1027.4,461.3 1032.5,469.5 1037.6,466.9 1042.7,468.1 1047.8,459.7 1052.9,462.3 1058.0,454.4 1063.1,456.6 1068.2,457.2 1073.3,456.6 1078.4,454.9 1083.5,458.4 1088.6,460.9 1093.7,463.5 1098.8,460.9 1104.0,468.6 1109.1,467.8 1114.2,467.4 1119.3,467.8 1124.4,467.8 1129.5,464.0 1134.6,467.8 1139.7,459.2 1144.8,463.0 1149.9,466.0 1155.0,456.6 1160.1,460.9 1165.2,463.0 1170.3,466.0 1175.4,464.0 1180.5,467.8 1185.6,466.9 1190.7,466.4 1195.8,465.7 1200.9,464.3 1206.0,463.0 1211.1,465.7 1216.2,470.8 1221.3,466.9 1226.4,465.2 1231.5,466.9 1236.6,467.8 1241.7,466.0 1246.8,465.2 1251.9,466.0 1257.0,471.2 1262.2,460.9 1267.3,462.6 1272.4,464.3 1277.5,465.2 1282.6,466.0 1287.7,466.4 1292.8,466.6 1297.9,466.6 1303.0,465.7 1308.1,466.6 1313.2,466.6 1318.3,466.9 1323.4,466.9 1328.5,460.9 1333.6,466.4 1338.7,466.0 1343.8,464.3 1348.9,466.9 1354.0,465.7 1359.1,466.9 1364.2,466.9 1369.3,466.9 1374.4,466.6 1379.5,466.6 1384.6,463.5 1389.7,463.5 1394.8,460.9 1399.9,463.0 1405.0,465.2 1410.1,464.0 1415.2,467.4 1420.3,467.8 1425.5,468.1 1430.6,468.6 1435.7,467.8 1440.8,468.1 1445.9,468.6 1451.0,467.8 1456.1,467.8 1461.2,469.1 1466.3,464.7 1471.4,469.1 1476.5,466.9 1481.6,467.4 1486.7,467.8 1491.8,467.4 1496.9,467.8 1502.0,466.9" stroke="#0072BD" stroke-width="1.6"/>
<polyline points="216.0,311.9 221.1,313.9 226.2,314.8 231.3,313.1 236.4,317.0 241.5,312.2 246.6,314.8 251.7,318.2 256.8,316.0 261.9,312.2 267.0,315.7 272.1,317.4 277.2,316.7 282.3,317.9 287.4,318.7 292.5,316.9 297.7,315.7 302.8,317.4 307.9,322.5 313.0,327.6 318.1,330.5 323.2,331.4 328.3,319.9 333.4,322.5 338.5,331.0 343.6,324.2 348.7,325.1 353.8,317.0 358.9,317.7 364.0,317.7 369.1,322.5 374.2,317.0 379.3,318.7 384.4,321.6 389.5,323.4 394.6,321.6 399.7,310.5 404.8,334.1 409.9,329.7 415.0,331.9 420.1,330.2 425.2,327.3 430.3,335.3 435.4,331.9 440.5,335.8 445.6,328.5 450.7,315.7 455.8,325.1 461.0,331.0 466.1,332.8 471.2,320.8 476.3,320.8 481.4,337.0 486.5,316.5 491.6,325.9 496.7,315.7 501.8,332.8 506.9,328.5 512.0,325.9 517.1,330.7 522.2,330.2 527.3,334.8 532.4,338.7 537.5,326.3 542.6,330.7 547.7,329.7 552.8,335.3 557.9,329.0 563.0,338.7 568.1,332.8 573.2,325.9 578.3,323.4 583.4,324.2 588.5,322.5 593.6,332.8 598.7,320.8 603.8,322.5 608.9,320.4 614.0,312.2 619.2,310.5 624.3,315.7 629.4,320.4 634.5,320.8 639.6,310.5 644.7,315.7 649.8,319.9 654.9,330.2 660.0,315.7 665.1,317.0 670.2,317.7 675.3,331.0 680.4,312.2 685.5,334.1 690.6,322.2 695.7,320.8 700.8,316.5 705.9,321.6 711.0,319.1 716.1,322.2 721.2,331.0 726.3,307.1 731.4,318.2 736.5,317.7 741.6,316.5 746.7,310.5 751.8,312.2 756.9,312.2 762.0,326.8 767.1,317.4 772.2,310.2 777.3,311.4 782.5,298.6 787.6,318.2 792.7,308.5 797.8,308.0 802.9,319.1 808.0,306.2 813.1,305.4 818.2,319.1 823.3,312.2 828.4,311.4 833.5,316.5 838.6,321.6 843.7,310.5 848.8,320.4 853.9,320.8 859.0,322.2 864.1,313.1 869.2,313.9 874.3,326.8 879.4,314.8 884.5,320.4 889.6,333.1 894.7,326.8 899.8,333.1 904.9,324.2 910.0,327.6 915.1,331.0 920.2,325.9 925.3,331.0 930.4,329.0 935.5,331.9 940.7,341.3 945.8,337.0 950.9,336.2 956.0,340.5 961.1,341.7 966.2,344.4 971.3,328.5 976.4,343.0 981.5,341.3 986.6,327.3 991.7,328.5 996.8,329.3 1001.9,328.5 1007.0,330.2 1012.1,331.9 1017.2,334.5 1022.3,327.6 1027.4,330.2 1032.5,326.8 1037.6,331.0 1042.7,334.1 1047.8,336.2 1052.9,328.0 1058.0,320.8 1063.1,329.0 1068.2,331.9 1073.3,331.0 1078.4,320.4 1083.5,325.9 1088.6,330.2 1093.7,325.9 1098.8,321.1 1104.0,327.3 1109.1,330.7 1114.2,330.2 1119.3,332.8 1124.4,333.6 1129.5,330.2 1134.6,336.5 1139.7,328.5 1144.8,327.3 1149.9,321.6 1155.0,331.9 1160.1,331.0 1165.2,317.0 1170.3,315.3 1175.4,316.5 1180.5,325.9 1185.6,317.4 1190.7,325.1 1195.8,324.2 1200.9,325.1 1206.0,326.3 1211.1,329.3 1216.2,330.2 1221.3,326.8 1226.4,325.9 1231.5,331.4 1236.6,331.9 1241.7,329.3 1246.8,329.0 1251.9,335.3 1257.0,336.5 1262.2,330.2 1267.3,334.5 1272.4,332.8 1277.5,329.3 1282.6,335.8 1287.7,336.5 1292.8,334.8 1297.9,339.6 1303.0,340.5 1308.1,342.2 1313.2,343.4 1318.3,344.7 1323.4,341.3 1328.5,326.8 1333.6,336.2 1338.7,340.5 1343.8,331.9 1348.9,339.6 1354.0,329.0 1359.1,343.4 1364.2,341.0 1369.3,338.7 1374.4,341.0 1379.5,339.6 1384.6,338.7 1389.7,340.5 1394.8,343.0 1399.9,344.7 1405.0,349.9 1410.1,346.4 1415.2,350.7 1420.3,351.9 1425.5,345.6 1430.6,339.3 1435.7,340.5 1440.8,338.7 1445.9,339.9 1451.0,340.5 1456.1,335.8 1461.2,335.3 1466.3,326.8 1471.4,331.9 1476.5,334.1 1481.6,335.8 1486.7,331.0 1491.8,335.8 1496.9,336.5 1502.0,335.3" stroke="#A2142F" stroke-width="1.6"/>
<polyline points="216.0,315.3 221.1,318.7 226.2,317.0 231.3,315.3 236.4,316.5 241.5,315.3 246.6,319.1 251.7,320.3 256.8,318.7 261.9,318.2 267.0,320.3 272.1,320.4 277.2,319.1 282.3,318.7 287.4,319.1 292.5,317.0 297.7,316.0 302.8,317.0 307.9,319.9 313.0,321.6 318.1,323.4 323.2,322.2 328.3,318.2 333.4,313.6 338.5,328.5 343.6,317.0 348.7,320.8 353.8,312.2 358.9,311.9 364.0,317.4 369.1,313.9 374.2,310.5 379.3,310.9 384.4,312.2 389.5,318.2 394.6,314.8 399.7,309.7 404.8,334.1 409.9,326.4 415.0,328.0 420.1,325.9 425.2,322.0 430.3,326.3 435.4,324.7 440.5,325.9 445.6,320.8 450.7,314.5 455.8,318.2 461.0,321.6 466.1,318.2 471.2,314.8 476.3,315.3 481.4,331.9 486.5,314.8 491.6,322.2 496.7,317.7 501.8,325.9 506.9,318.2 512.0,314.8 517.1,317.4 522.2,319.1 527.3,325.1 532.4,325.1 537.5,316.0 542.6,319.4 547.7,318.2 552.8,321.6 557.9,319.9 563.0,327.6 568.1,320.8 573.2,313.9 578.3,315.7 583.4,317.0 588.5,317.7 593.6,324.2 598.7,317.0 603.8,316.5 608.9,316.0 614.0,308.8 619.2,306.6 624.3,308.5 629.4,311.9 634.5,311.7 639.6,302.3 644.7,308.3 649.8,313.9 654.9,314.3 660.0,306.8 665.1,308.8 670.2,309.7 675.3,320.4 680.4,307.4 685.5,318.2 690.6,317.4 695.7,316.5 700.8,314.3 705.9,315.7 711.0,312.2 716.1,311.9 721.2,317.4 726.3,302.8 731.4,312.2 736.5,310.9 741.6,311.4 746.7,310.2 751.8,311.9 756.9,312.2 762.0,317.7 767.1,314.8 772.2,311.4 777.3,314.8 782.5,305.7 787.6,315.3 792.7,310.9 797.8,310.5 802.9,315.7 808.0,307.1 813.1,307.6 818.2,313.1 823.3,312.6 828.4,313.1 833.5,314.3 838.6,316.0 843.7,311.4 848.8,316.0 853.9,315.7 859.0,318.2 864.1,311.7 869.2,311.4 874.3,320.4 879.4,315.3 884.5,315.7 889.6,324.2 894.7,317.4 899.8,323.4 904.9,317.4 910.0,320.8 915.1,321.6 920.2,320.8 925.3,326.8 930.4,329.3 935.5,331.0 940.7,331.9 945.8,327.3 950.9,325.9 956.0,330.2 961.1,331.0 966.2,332.8 971.3,321.1 976.4,334.8 981.5,333.6 986.6,325.1 991.7,325.6 996.8,325.1 1001.9,324.2 1007.0,326.8 1012.1,325.9 1017.2,326.4 1022.3,321.6 1027.4,322.5 1032.5,321.1 1037.6,322.5 1042.7,323.4 1047.8,331.0 1052.9,324.2 1058.0,316.9 1063.1,323.4 1068.2,328.5 1073.3,325.1 1078.4,320.4 1083.5,322.5 1088.6,324.2 1093.7,320.8 1098.8,316.5 1104.0,320.4 1109.1,322.8 1114.2,322.2 1119.3,323.4 1124.4,324.2 1129.5,323.4 1134.6,327.3 1139.7,322.5 1144.8,321.6 1149.9,316.0 1155.0,322.8 1160.1,322.2 1165.2,313.1 1170.3,312.6 1175.4,315.1 1180.5,321.6 1185.6,317.4 1190.7,320.4 1195.8,321.1 1200.9,321.1 1206.0,322.8 1211.1,326.4 1216.2,322.5 1221.3,321.6 1226.4,321.6 1231.5,325.1 1236.6,325.4 1241.7,322.5 1246.8,322.2 1251.9,328.5 1257.0,330.2 1262.2,323.7 1267.3,325.9 1272.4,326.3 1277.5,327.6 1282.6,330.2 1287.7,330.2 1292.8,329.0 1297.9,335.3 1303.0,337.5 1308.1,338.2 1313.2,338.4 1318.3,338.4 1323.4,336.2 1328.5,323.7 1333.6,329.8 1338.7,331.0 1343.8,327.6 1348.9,331.9 1354.0,332.4 1359.1,334.8 1364.2,334.8 1369.3,334.5 1374.4,334.5 1379.5,334.1 1384.6,334.1 1389.7,334.0 1394.8,337.9 1399.9,339.3 1405.0,347.6 1410.1,346.1 1415.2,346.1 1420.3,339.3 1425.5,337.5 1430.6,331.4 1435.7,332.4 1440.8,332.4 1445.9,332.2 1451.0,331.6 1456.1,332.8 1461.2,331.9 1466.3,324.2 1471.4,329.0 1476.5,329.0 1481.6,329.0 1486.7,324.7 1491.8,325.9 1496.9,328.0 1502.0,326.4" stroke="#7E2F8E" stroke-width="1.6"/>
<polyline points="216.0,447.9 221.1,450.8 226.2,453.4 231.3,453.0 236.4,452.5 241.5,452.0 246.6,452.2 251.7,452.8 256.8,450.8 261.9,451.6 267.0,452.2 272.1,452.2 277.2,452.5 282.3,452.5 287.4,452.2 292.5,452.2 297.7,452.0 302.8,452.2 307.9,454.7 313.0,453.7 318.1,454.6 323.2,459.9 328.3,454.6 333.4,465.0 338.5,461.9 343.6,459.0 348.7,461.9 353.8,449.6 358.9,449.6 364.0,449.6 369.1,455.9 374.2,459.9 379.3,457.6 384.4,444.8 389.5,450.8 394.6,450.8 399.7,447.9 404.8,448.6 409.9,444.8 415.0,444.8 420.1,443.9 425.2,441.4 430.3,454.7 435.4,455.1 440.5,453.0 445.6,453.4 450.7,442.2 455.8,448.2 461.0,453.4 466.1,456.4 471.2,443.4 476.3,440.5 481.4,460.2 486.5,448.2 491.6,454.2 496.7,446.5 501.8,455.1 506.9,466.2 512.0,446.2 517.1,449.1 522.2,449.9 527.3,451.6 532.4,455.1 537.5,463.6 542.6,459.9 547.7,459.9 552.8,454.2 557.9,436.3 563.0,458.5 568.1,457.1 573.2,464.5 578.3,453.4 583.4,456.8 588.5,449.1 593.6,462.8 598.7,449.9 603.8,453.4 608.9,466.7 614.0,465.7 619.2,461.1 624.3,453.0 629.4,455.1 634.5,459.3 639.6,472.5 644.7,454.2 649.8,454.7 654.9,458.5 660.0,461.1 665.1,455.9 670.2,448.6 675.3,454.2 680.4,446.9 685.5,444.8 690.6,445.7 695.7,443.9 700.8,442.8 705.9,443.9 711.0,443.9 716.1,447.4 721.2,455.9 726.3,443.9 731.4,455.9 736.5,455.9 741.6,450.8 746.7,445.1 751.8,446.9 756.9,446.2 762.0,455.4 767.1,449.1 772.2,443.4 777.3,445.7 782.5,440.5 787.6,451.3 792.7,448.2 797.8,446.2 802.9,449.1 808.0,440.5 813.1,440.0 818.2,444.3 823.3,444.5 828.4,444.3 833.5,443.6 838.6,444.8 843.7,443.6 848.8,445.3 853.9,444.8 859.0,447.9 864.1,442.2 869.2,442.2 874.3,450.8 879.4,442.8 884.5,439.3 889.6,446.2 894.7,441.0 899.8,445.7 904.9,443.9 910.0,447.9 915.1,450.8 920.2,446.2 925.3,446.9 930.4,447.9 935.5,449.6 940.7,449.1 945.8,449.1 950.9,451.3 956.0,451.6 961.1,449.9 966.2,444.8 971.3,441.4 976.4,446.2 981.5,445.3 986.6,449.9 991.7,452.2 996.8,452.5 1001.9,452.5 1007.0,449.4 1012.1,450.4 1017.2,450.3 1022.3,447.9 1027.4,444.8 1032.5,449.1 1037.6,448.2 1042.7,449.9 1047.8,446.2 1052.9,445.7 1058.0,442.8 1063.1,443.9 1068.2,444.3 1073.3,437.1 1078.4,442.8 1083.5,444.8 1088.6,446.2 1093.7,447.4 1098.8,444.8 1104.0,449.9 1109.1,449.1 1114.2,449.6 1119.3,449.9 1124.4,449.9 1129.5,447.4 1134.6,449.1 1139.7,444.8 1144.8,445.7 1149.9,449.1 1155.0,429.4 1160.1,445.7 1165.2,447.4 1170.3,446.2 1175.4,444.8 1180.5,449.1 1185.6,447.9 1190.7,448.2 1195.8,448.2 1200.9,447.9 1206.0,447.4 1211.1,448.6 1216.2,449.9 1221.3,446.5 1226.4,447.9 1231.5,449.1 1236.6,450.3 1241.7,450.3 1246.8,448.2 1251.9,448.2 1257.0,460.2 1262.2,446.5 1267.3,447.4 1272.4,448.2 1277.5,448.2 1282.6,449.6 1287.7,449.6 1292.8,449.9 1297.9,450.3 1303.0,450.4 1308.1,450.4 1313.2,450.4 1318.3,450.4 1323.4,449.6 1328.5,446.2 1333.6,449.1 1338.7,449.9 1343.8,448.2 1348.9,449.9 1354.0,448.6 1359.1,449.9 1364.2,449.6 1369.3,449.6 1374.4,449.9 1379.5,449.9 1384.6,448.2 1389.7,448.2 1394.8,446.2 1399.9,447.9 1405.0,449.6 1410.1,448.6 1415.2,451.6 1420.3,450.8 1425.5,450.3 1430.6,449.9 1435.7,450.3 1440.8,450.3 1445.9,450.3 1451.0,449.9 1456.1,449.9 1461.2,450.8 1466.3,447.4 1471.4,449.6 1476.5,449.1 1481.6,449.9 1486.7,449.9 1491.8,449.6 1496.9,449.9 1502.0,449.4" stroke="#A2142F" stroke-width="1.6"/>
<polyline points="216.0,445.2 221.1,448.1 226.2,450.7 231.3,450.3 236.4,449.8 241.5,449.3 246.6,449.5 251.7,450.1 256.8,448.1 261.9,448.9 267.0,449.5 272.1,449.5 277.2,449.8 282.3,449.8 287.4,449.5 292.5,449.5 297.7,449.3 302.8,449.5 307.9,452.0 313.0,451.0 318.1,451.9 323.2,457.2 328.3,451.9 333.4,462.3 338.5,459.2 343.6,456.3 348.7,459.2 353.8,446.9 358.9,446.9 364.0,446.9 369.1,453.2 374.2,457.2 379.3,454.9 384.4,442.1 389.5,448.1 394.6,448.1 399.7,445.2 404.8,445.9 409.9,442.1 415.0,442.1 420.1,441.2 425.2,438.7 430.3,452.0 435.4,452.4 440.5,450.3 445.6,450.7 450.7,439.5 455.8,445.5 461.0,450.7 466.1,453.7 471.2,440.7 476.3,437.8 481.4,457.5 486.5,445.5 491.6,451.5 496.7,443.8 501.8,452.4 506.9,463.5 512.0,443.5 517.1,446.4 522.2,447.2 527.3,448.9 532.4,452.4 537.5,460.9 542.6,457.2 547.7,457.2 552.8,451.5 557.9,433.6 563.0,455.8 568.1,454.4 573.2,461.8 578.3,450.7 583.4,454.1 588.5,446.4 593.6,460.1 598.7,447.2 603.8,450.7 608.9,464.0 614.0,463.0 619.2,458.4 624.3,450.3 629.4,452.4 634.5,456.6 639.6,469.8 644.7,451.5 649.8,452.0 654.9,455.8 660.0,458.4 665.1,453.2 670.2,445.9 675.3,451.5 680.4,444.2 685.5,442.1 690.6,443.0 695.7,441.2 700.8,440.1 705.9,441.2 711.0,441.2 716.1,444.7 721.2,453.2 726.3,441.2 731.4,453.2 736.5,453.2 741.6,448.1 746.7,442.4 751.8,444.2 756.9,443.5 762.0,452.7 767.1,446.4 772.2,440.7 777.3,443.0 782.5,437.8 787.6,448.6 792.7,445.5 797.8,443.5 802.9,446.4 808.0,437.8 813.1,437.3 818.2,441.6 823.3,441.8 828.4,441.6 833.5,440.9 838.6,442.1 843.7,440.9 848.8,442.6 853.9,442.1 859.0,445.2 864.1,439.5 869.2,439.5 874.3,448.1 879.4,440.1 884.5,436.6 889.6,443.5 894.7,438.3 899.8,443.0 904.9,441.2 910.0,445.2 915.1,448.1 920.2,443.5 925.3,444.2 930.4,445.2 935.5,446.9 940.7,446.4 945.8,446.4 950.9,448.6 956.0,448.9 961.1,447.2 966.2,442.1 971.3,438.7 976.4,443.5 981.5,442.6 986.6,447.2 991.7,449.5 996.8,449.8 1001.9,449.8 1007.0,446.7 1012.1,447.7 1017.2,447.6 1022.3,445.2 1027.4,442.1 1032.5,446.4 1037.6,445.5 1042.7,447.2 1047.8,443.5 1052.9,443.0 1058.0,440.1 1063.1,441.2 1068.2,441.6 1073.3,434.4 1078.4,440.1 1083.5,442.1 1088.6,443.5 1093.7,444.7 1098.8,442.1 1104.0,447.2 1109.1,446.4 1114.2,446.9 1119.3,447.2 1124.4,447.2 1129.5,444.7 1134.6,446.4 1139.7,442.1 1144.8,443.0 1149.9,446.4 1155.0,426.7 1160.1,443.0 1165.2,444.7 1170.3,443.5 1175.4,442.1 1180.5,446.4 1185.6,445.2 1190.7,445.5 1195.8,445.5 1200.9,445.2 1206.0,444.7 1211.1,445.9 1216.2,447.2 1221.3,443.8 1226.4,445.2 1231.5,446.4 1236.6,447.6 1241.7,447.6 1246.8,445.5 1251.9,445.5 1257.0,457.5 1262.2,443.8 1267.3,444.7 1272.4,445.5 1277.5,445.5 1282.6,446.9 1287.7,446.9 1292.8,447.2 1297.9,447.6 1303.0,447.7 1308.1,447.7 1313.2,447.7 1318.3,447.7 1323.4,446.9 1328.5,443.5 1333.6,446.4 1338.7,447.2 1343.8,445.5 1348.9,447.2 1354.0,445.9 1359.1,447.2 1364.2,446.9 1369.3,446.9 1374.4,447.2 1379.5,447.2 1384.6,445.5 1389.7,445.5 1394.8,443.5 1399.9,445.2 1405.0,446.9 1410.1,445.9 1415.2,448.9 1420.3,448.1 1425.5,447.6 1430.6,447.2 1435.7,447.6 1440.8,447.6 1445.9,447.6 1451.0,447.2 1456.1,447.2 1461.2,448.1 1466.3,444.7 1471.4,446.9 1476.5,446.4 1481.6,447.2 1486.7,447.2 1491.8,446.9 1496.9,447.2 1502.0,446.7" stroke="#0072BD" stroke-width="1.6"/>
<polyline points="216.0,326.0 221.1,328.9 226.2,327.2 231.3,325.6 236.4,326.5 241.5,325.1 246.6,329.7 251.7,329.6 256.8,328.9 261.9,328.2 267.0,330.2 272.1,330.6 277.2,329.6 282.3,329.9 287.4,329.4 292.5,327.3 297.7,326.5 302.8,327.5 307.9,329.9 313.0,330.7 318.1,331.6 323.2,331.1 328.3,328.9 333.4,323.9 338.5,337.1 343.6,326.8 348.7,330.2 353.8,321.7 358.9,322.2 364.0,327.3 369.1,324.3 374.2,320.8 379.3,321.2 384.4,323.4 389.5,327.3 394.6,324.3 399.7,320.0 404.8,344.8 409.9,337.1 415.0,337.9 420.1,335.7 425.2,332.5 430.3,336.2 435.4,332.8 440.5,335.4 445.6,330.6 450.7,324.3 455.8,327.7 461.0,331.1 466.1,328.5 471.2,324.3 476.3,325.1 481.4,341.4 486.5,325.1 491.6,331.9 496.7,328.9 501.8,335.0 506.9,327.7 512.0,323.4 517.1,326.8 522.2,327.7 527.3,331.9 532.4,332.5 537.5,324.8 542.6,328.2 547.7,326.8 552.8,329.4 557.9,327.7 563.0,337.1 568.1,330.7 573.2,325.1 578.3,326.0 583.4,327.2 588.5,327.7 593.6,332.5 598.7,326.8 603.8,326.0 608.9,324.8 614.0,319.1 619.2,316.0 624.3,318.3 629.4,321.2 634.5,320.8 639.6,311.8 644.7,317.4 649.8,322.5 654.9,323.4 660.0,316.2 665.1,317.4 670.2,318.3 675.3,328.2 680.4,317.4 685.5,326.5 690.6,326.8 695.7,326.0 700.8,323.4 705.9,323.1 711.0,319.6 716.1,321.7 721.2,326.8 726.3,312.3 731.4,320.8 736.5,320.0 741.6,320.3 746.7,319.1 751.8,321.7 756.9,321.7 762.0,325.6 767.1,323.7 772.2,320.3 777.3,322.5 782.5,314.0 787.6,323.4 792.7,320.0 797.8,319.1 802.9,323.1 808.0,316.2 813.1,316.2 818.2,321.7 823.3,321.3 828.4,321.3 833.5,321.7 838.6,323.4 843.7,320.0 848.8,322.5 853.9,323.1 859.0,326.0 864.1,320.0 869.2,320.0 874.3,327.7 879.4,324.3 884.5,323.4 889.6,331.9 894.7,326.0 899.8,331.4 904.9,326.0 910.0,329.4 915.1,329.9 920.2,328.2 925.3,333.7 930.4,336.2 935.5,337.9 940.7,339.6 945.8,336.2 950.9,335.7 956.0,337.9 961.1,339.3 966.2,340.8 971.3,327.7 976.4,342.2 981.5,340.5 986.6,332.8 991.7,332.5 996.8,332.5 1001.9,331.6 1007.0,334.5 1012.1,333.3 1017.2,334.0 1022.3,329.9 1027.4,331.1 1032.5,329.9 1037.6,330.6 1042.7,331.9 1047.8,337.1 1052.9,331.1 1058.0,324.3 1063.1,329.4 1068.2,335.0 1073.3,331.1 1078.4,326.8 1083.5,328.9 1088.6,331.1 1093.7,327.7 1098.8,323.4 1104.0,326.8 1109.1,329.9 1114.2,328.2 1119.3,329.4 1124.4,330.2 1129.5,329.4 1134.6,332.8 1139.7,328.2 1144.8,327.7 1149.9,322.5 1155.0,328.5 1160.1,327.7 1165.2,319.1 1170.3,318.6 1175.4,320.3 1180.5,327.3 1185.6,323.1 1190.7,326.0 1195.8,326.8 1200.9,326.8 1206.0,328.5 1211.1,331.9 1216.2,328.5 1221.3,327.7 1226.4,328.2 1231.5,331.6 1236.6,331.9 1241.7,329.9 1246.8,329.9 1251.9,335.0 1257.0,336.2 1262.2,329.4 1267.3,331.9 1272.4,331.6 1277.5,333.3 1282.6,336.2 1287.7,336.2 1292.8,335.0 1297.9,340.5 1303.0,342.6 1308.1,343.9 1313.2,343.9 1318.3,344.3 1323.4,341.4 1328.5,329.4 1333.6,335.0 1338.7,335.7 1343.8,333.7 1348.9,336.7 1354.0,338.4 1359.1,340.5 1364.2,340.5 1369.3,340.2 1374.4,340.5 1379.5,340.5 1384.6,340.2 1389.7,340.5 1394.8,343.9 1399.9,344.8 1405.0,353.3 1410.1,352.5 1415.2,351.6 1420.3,344.8 1425.5,343.1 1430.6,337.6 1435.7,338.8 1440.8,338.8 1445.9,338.8 1451.0,337.9 1456.1,337.1 1461.2,337.1 1466.3,330.2 1471.4,334.5 1476.5,335.0 1481.6,335.0 1486.7,331.6 1491.8,332.8 1496.9,335.0 1502.0,332.3" stroke="#EDB120" stroke-width="1.6"/>
<polyline points="216.0,325.7 221.1,328.6 226.2,326.9 231.3,325.3 236.4,326.2 241.5,324.8 246.6,329.4 251.7,329.3 256.8,328.6 261.9,327.9 267.0,329.9 272.1,330.3 277.2,329.3 282.3,329.6 287.4,329.1 292.5,327.0 297.7,326.2 302.8,327.2 307.9,329.6 313.0,330.4 318.1,331.3 323.2,330.8 328.3,328.6 333.4,323.6 338.5,336.8 343.6,326.5 348.7,329.9 353.8,321.4 358.9,321.9 364.0,327.0 369.1,324.0 374.2,320.5 379.3,320.9 384.4,323.1 389.5,327.0 394.6,324.0 399.7,319.7 404.8,344.5 409.9,336.8 415.0,337.6 420.1,335.4 425.2,332.2 430.3,335.9 435.4,332.5 440.5,335.1 445.6,330.3 450.7,324.0 455.8,327.4 461.0,330.8 466.1,328.2 471.2,324.0 476.3,324.8 481.4,341.1 486.5,324.8 491.6,331.6 496.7,328.6 501.8,334.7 506.9,327.4 512.0,323.1 517.1,326.5 522.2,327.4 527.3,331.6 532.4,332.2 537.5,324.5 542.6,327.9 547.7,326.5 552.8,329.1 557.9,327.4 563.0,336.8 568.1,330.4 573.2,324.8 578.3,325.7 583.4,326.9 588.5,327.4 593.6,332.2 598.7,326.5 603.8,325.7 608.9,324.5 614.0,318.8 619.2,315.7 624.3,318.0 629.4,320.9 634.5,320.5 639.6,311.5 644.7,317.1 649.8,322.2 654.9,323.1 660.0,315.9 665.1,317.1 670.2,318.0 675.3,327.9 680.4,317.1 685.5,326.2 690.6,326.5 695.7,325.7 700.8,323.1 705.9,322.8 711.0,319.3 716.1,321.4 721.2,326.5 726.3,312.0 731.4,320.5 736.5,319.7 741.6,320.0 746.7,318.8 751.8,321.4 756.9,321.4 762.0,325.3 767.1,323.4 772.2,320.0 777.3,322.2 782.5,313.7 787.6,323.1 792.7,319.7 797.8,318.8 802.9,322.8 808.0,315.9 813.1,315.9 818.2,321.4 823.3,321.0 828.4,321.0 833.5,321.4 838.6,323.1 843.7,319.7 848.8,322.2 853.9,322.8 859.0,325.7 864.1,319.7 869.2,319.7 874.3,327.4 879.4,324.0 884.5,323.1 889.6,331.6 894.7,325.7 899.8,331.1 904.9,325.7 910.0,329.1 915.1,329.6 920.2,327.9 925.3,333.4 930.4,335.9 935.5,337.6 940.7,339.3 945.8,335.9 950.9,335.4 956.0,337.6 961.1,339.0 966.2,340.5 971.3,327.4 976.4,341.9 981.5,340.2 986.6,332.5 991.7,332.2 996.8,332.2 1001.9,331.3 1007.0,334.2 1012.1,333.0 1017.2,333.7 1022.3,329.6 1027.4,330.8 1032.5,329.6 1037.6,330.3 1042.7,331.6 1047.8,336.8 1052.9,330.8 1058.0,324.0 1063.1,329.1 1068.2,334.7 1073.3,330.8 1078.4,326.5 1083.5,328.6 1088.6,330.8 1093.7,327.4 1098.8,323.1 1104.0,326.5 1109.1,329.6 1114.2,327.9 1119.3,329.1 1124.4,329.9 1129.5,329.1 1134.6,332.5 1139.7,327.9 1144.8,327.4 1149.9,322.2 1155.0,328.2 1160.1,327.4 1165.2,318.8 1170.3,318.3 1175.4,320.0 1180.5,327.0 1185.6,322.8 1190.7,325.7 1195.8,326.5 1200.9,326.5 1206.0,328.2 1211.1,331.6 1216.2,328.2 1221.3,327.4 1226.4,327.9 1231.5,331.3 1236.6,331.6 1241.7,329.6 1246.8,329.6 1251.9,334.7 1257.0,335.9 1262.2,329.1 1267.3,331.6 1272.4,331.3 1277.5,333.0 1282.6,335.9 1287.7,335.9 1292.8,334.7 1297.9,340.2 1303.0,342.3 1308.1,343.6 1313.2,343.6 1318.3,344.0 1323.4,341.1 1328.5,329.1 1333.6,334.7 1338.7,335.4 1343.8,333.4 1348.9,336.4 1354.0,338.1 1359.1,340.2 1364.2,340.2 1369.3,339.9 1374.4,340.2 1379.5,340.2 1384.6,339.9 1389.7,340.2 1394.8,343.6 1399.9,344.5 1405.0,353.0 1410.1,352.2 1415.2,351.3 1420.3,344.5 1425.5,342.8 1430.6,337.3 1435.7,338.5 1440.8,338.5 1445.9,338.5 1451.0,337.6 1456.1,336.8 1461.2,336.8 1466.3,329.9 1471.4,334.2 1476.5,334.7 1481.6,334.7 1486.7,331.3 1491.8,332.5 1496.9,334.7 1502.0,332.0" stroke="#7E2F8E" stroke-width="1.6"/>
<polyline points="216.0,324.5 221.1,327.4 226.2,325.7 231.3,324.1 236.4,325.0 241.5,323.6 246.6,328.2 251.7,328.1 256.8,327.4 261.9,326.7 267.0,328.7 272.1,329.1 277.2,328.1 282.3,328.4 287.4,327.9 292.5,325.8 297.7,325.0 302.8,326.0 307.9,328.4 313.0,329.2 318.1,330.1 323.2,329.6 328.3,327.4 333.4,322.4 338.5,335.6 343.6,325.3 348.7,328.7 353.8,320.2 358.9,320.7 364.0,325.8 369.1,322.8 374.2,319.3 379.3,319.7 384.4,321.9 389.5,325.8 394.6,322.8 399.7,318.5 404.8,343.3 409.9,335.6 415.0,336.4 420.1,334.2 425.2,331.0 430.3,334.7 435.4,331.3 440.5,333.9 445.6,329.1 450.7,322.8 455.8,326.2 461.0,329.6 466.1,327.0 471.2,322.8 476.3,323.6 481.4,339.9 486.5,323.6 491.6,330.4 496.7,327.4 501.8,333.5 506.9,326.2 512.0,321.9 517.1,325.3 522.2,326.2 527.3,330.4 532.4,331.0 537.5,323.3 542.6,326.7 547.7,325.3 552.8,327.9 557.9,326.2 563.0,335.6 568.1,329.2 573.2,323.6 578.3,324.5 583.4,325.7 588.5,326.2 593.6,331.0 598.7,325.3 603.8,324.5 608.9,323.3 614.0,317.6 619.2,314.5 624.3,316.8 629.4,319.7 634.5,319.3 639.6,310.3 644.7,315.9 649.8,321.0 654.9,321.9 660.0,314.7 665.1,315.9 670.2,316.8 675.3,326.7 680.4,315.9 685.5,325.0 690.6,325.3 695.7,324.5 700.8,321.9 705.9,321.6 711.0,318.1 716.1,320.2 721.2,325.3 726.3,310.8 731.4,319.3 736.5,318.5 741.6,318.8 746.7,317.6 751.8,320.2 756.9,320.2 762.0,324.1 767.1,322.2 772.2,318.8 777.3,321.0 782.5,312.5 787.6,321.9 792.7,318.5 797.8,317.6 802.9,321.6 808.0,314.7 813.1,314.7 818.2,320.2 823.3,319.8 828.4,319.8 833.5,320.2 838.6,321.9 843.7,318.5 848.8,321.0 853.9,321.6 859.0,324.5 864.1,318.5 869.2,318.5 874.3,326.2 879.4,322.8 884.5,321.9 889.6,330.4 894.7,324.5 899.8,329.9 904.9,324.5 910.0,327.9 915.1,328.4 920.2,326.7 925.3,332.2 930.4,334.7 935.5,336.4 940.7,338.1 945.8,334.7 950.9,334.2 956.0,336.4 961.1,337.8 966.2,339.3 971.3,326.2 976.4,340.7 981.5,339.0 986.6,331.3 991.7,331.0 996.8,331.0 1001.9,330.1 1007.0,333.0 1012.1,331.8 1017.2,332.5 1022.3,328.4 1027.4,329.6 1032.5,328.4 1037.6,329.1 1042.7,330.4 1047.8,335.6 1052.9,329.6 1058.0,322.8 1063.1,327.9 1068.2,333.5 1073.3,329.6 1078.4,325.3 1083.5,327.4 1088.6,329.6 1093.7,326.2 1098.8,321.9 1104.0,325.3 1109.1,328.4 1114.2,326.7 1119.3,327.9 1124.4,328.7 1129.5,327.9 1134.6,331.3 1139.7,326.7 1144.8,326.2 1149.9,321.0 1155.0,327.0 1160.1,326.2 1165.2,317.6 1170.3,317.1 1175.4,318.8 1180.5,325.8 1185.6,321.6 1190.7,324.5 1195.8,325.3 1200.9,325.3 1206.0,327.0 1211.1,330.4 1216.2,327.0 1221.3,326.2 1226.4,326.7 1231.5,330.1 1236.6,330.4 1241.7,328.4 1246.8,328.4 1251.9,333.5 1257.0,334.7 1262.2,327.9 1267.3,330.4 1272.4,330.1 1277.5,331.8 1282.6,334.7 1287.7,334.7 1292.8,333.5 1297.9,339.0 1303.0,341.1 1308.1,342.4 1313.2,342.4 1318.3,342.8 1323.4,339.9 1328.5,327.9 1333.6,333.5 1338.7,334.2 1343.8,332.2 1348.9,335.2 1354.0,336.9 1359.1,339.0 1364.2,339.0 1369.3,338.7 1374.4,339.0 1379.5,339.0 1384.6,338.7 1389.7,339.0 1394.8,342.4 1399.9,343.3 1405.0,351.8 1410.1,351.0 1415.2,350.1 1420.3,343.3 1425.5,341.6 1430.6,336.1 1435.7,337.3 1440.8,337.3 1445.9,337.3 1451.0,336.4 1456.1,335.6 1461.2,335.6 1466.3,328.7 1471.4,333.0 1476.5,333.5 1481.6,333.5 1486.7,330.1 1491.8,331.3 1496.9,333.5 1502.0,330.8" stroke="#77AC30" stroke-width="1.6"/>
<polyline points="216.0,324.7 221.1,327.6 226.2,325.9 231.3,324.3 236.4,325.2 241.5,323.8 246.6,328.4 251.7,328.3 256.8,327.6 261.9,326.9 267.0,328.9 272.1,329.3 277.2,328.3 282.3,328.6 287.4,328.1 292.5,326.0 297.7,325.2 302.8,326.2 307.9,328.6 313.0,329.4 318.1,330.3 323.2,329.8 328.3,327.6 333.4,322.6 338.5,335.8 343.6,325.5 348.7,328.9 353.8,320.4 358.9,320.9 364.0,326.0 369.1,323.0 374.2,319.5 379.3,319.9 384.4,322.1 389.5,326.0 394.6,323.0 399.7,318.7 404.8,343.5 409.9,335.8 415.0,336.6 420.1,334.4 425.2,331.2 430.3,334.9 435.4,331.5 440.5,334.1 445.6,329.3 450.7,323.0 455.8,326.4 461.0,329.8 466.1,327.2 471.2,323.0 476.3,323.8 481.4,340.1 486.5,323.8 491.6,330.6 496.7,327.6 501.8,333.7 506.9,326.4 512.0,322.1 517.1,325.5 522.2,326.4 527.3,330.6 532.4,331.2 537.5,323.5 542.6,326.9 547.7,325.5 552.8,328.1 557.9,326.4 563.0,335.8 568.1,329.4 573.2,323.8 578.3,324.7 583.4,325.9 588.5,326.4 593.6,331.2 598.7,325.5 603.8,324.7 608.9,323.5 614.0,317.8 619.2,314.7 624.3,317.0 629.4,319.9 634.5,319.5 639.6,310.5 644.7,316.1 649.8,321.2 654.9,322.1 660.0,314.9 665.1,316.1 670.2,317.0 675.3,326.9 680.4,316.1 685.5,325.2 690.6,325.5 695.7,324.7 700.8,322.1 705.9,321.8 711.0,318.3 716.1,320.4 721.2,325.5 726.3,311.0 731.4,319.5 736.5,318.7 741.6,319.0 746.7,317.8 751.8,320.4 756.9,320.4 762.0,324.3 767.1,322.4 772.2,319.0 777.3,321.2 782.5,312.7 787.6,322.1 792.7,318.7 797.8,317.8 802.9,321.8 808.0,314.9 813.1,314.9 818.2,320.4 823.3,320.0 828.4,320.0 833.5,320.4 838.6,322.1 843.7,318.7 848.8,321.2 853.9,321.8 859.0,324.7 864.1,318.7 869.2,318.7 874.3,326.4 879.4,323.0 884.5,322.1 889.6,330.6 894.7,324.7 899.8,330.1 904.9,324.7 910.0,328.1 915.1,328.6 920.2,326.9 925.3,332.4 930.4,334.9 935.5,336.6 940.7,338.3 945.8,334.9 950.9,334.4 956.0,336.6 961.1,338.0 966.2,339.5 971.3,326.4 976.4,340.9 981.5,339.2 986.6,331.5 991.7,331.2 996.8,331.2 1001.9,330.3 1007.0,333.2 1012.1,332.0 1017.2,332.7 1022.3,328.6 1027.4,329.8 1032.5,328.6 1037.6,329.3 1042.7,330.6 1047.8,335.8 1052.9,329.8 1058.0,323.0 1063.1,328.1 1068.2,333.7 1073.3,329.8 1078.4,325.5 1083.5,327.6 1088.6,329.8 1093.7,326.4 1098.8,322.1 1104.0,325.5 1109.1,328.6 1114.2,326.9 1119.3,328.1 1124.4,328.9 1129.5,328.1 1134.6,331.5 1139.7,326.9 1144.8,326.4 1149.9,321.2 1155.0,327.2 1160.1,326.4 1165.2,317.8 1170.3,317.3 1175.4,319.0 1180.5,326.0 1185.6,321.8 1190.7,324.7 1195.8,325.5 1200.9,325.5 1206.0,327.2 1211.1,330.6 1216.2,327.2 1221.3,326.4 1226.4,326.9 1231.5,330.3 1236.6,330.6 1241.7,328.6 1246.8,328.6 1251.9,333.7 1257.0,334.9 1262.2,328.1 1267.3,330.6 1272.4,330.3 1277.5,332.0 1282.6,334.9 1287.7,334.9 1292.8,333.7 1297.9,339.2 1303.0,341.3 1308.1,342.6 1313.2,342.6 1318.3,343.0 1323.4,340.1 1328.5,328.1 1333.6,333.7 1338.7,334.4 1343.8,332.4 1348.9,335.4 1354.0,337.1 1359.1,339.2 1364.2,339.2 1369.3,338.9 1374.4,339.2 1379.5,339.2 1384.6,338.9 1389.7,339.2 1394.8,342.6 1399.9,343.5 1405.0,352.0 1410.1,351.2 1415.2,350.3 1420.3,343.5 1425.5,341.8 1430.6,336.3 1435.7,337.5 1440.8,337.5 1445.9,337.5 1451.0,336.6 1456.1,335.8 1461.2,335.8 1466.3,328.9 1471.4,333.2 1476.5,333.7 1481.6,333.7 1486.7,330.3 1491.8,331.5 1496.9,333.7 1502.0,331.0" stroke="#4DBEEE" stroke-width="1.6"/>
<polyline points="216.0,325.1 221.1,328.0 226.2,326.3 231.3,324.7 236.4,325.6 241.5,324.2 246.6,328.8 251.7,328.7 256.8,328.0 261.9,327.3 267.0,329.3 272.1,329.7 277.2,328.7 282.3,329.0 287.4,328.5 292.5,326.4 297.7,325.6 302.8,326.6 307.9,329.0 313.0,329.8 318.1,330.7 323.2,330.2 328.3,328.0 333.4,323.0 338.5,336.2 343.6,325.9 348.7,329.3 353.8,320.8 358.9,321.3 364.0,326.4 369.1,323.4 374.2,319.9 379.3,320.3 384.4,322.5 389.5,326.4 394.6,323.4 399.7,319.1 404.8,343.9 409.9,336.2 415.0,337.0 420.1,334.8 425.2,331.6 430.3,335.3 435.4,331.9 440.5,334.5 445.6,329.7 450.7,323.4 455.8,326.8 461.0,330.2 466.1,327.6 471.2,323.4 476.3,324.2 481.4,340.5 486.5,324.2 491.6,331.0 496.7,328.0 501.8,334.1 506.9,326.8 512.0,322.5 517.1,325.9 522.2,326.8 527.3,331.0 532.4,331.6 537.5,323.9 542.6,327.3 547.7,325.9 552.8,328.5 557.9,326.8 563.0,336.2 568.1,329.8 573.2,324.2 578.3,325.1 583.4,326.3 588.5,326.8 593.6,331.6 598.7,325.9 603.8,325.1 608.9,323.9 614.0,318.2 619.2,315.1 624.3,317.4 629.4,320.3 634.5,319.9 639.6,310.9 644.7,316.5 649.8,321.6 654.9,322.5 660.0,315.3 665.1,316.5 670.2,317.4 675.3,327.3 680.4,316.5 685.5,325.6 690.6,325.9 695.7,325.1 700.8,322.5 705.9,322.2 711.0,318.7 716.1,320.8 721.2,325.9 726.3,311.4 731.4,319.9 736.5,319.1 741.6,319.4 746.7,318.2 751.8,320.8 756.9,320.8 762.0,324.7 767.1,322.8 772.2,319.4 777.3,321.6 782.5,313.1 787.6,322.5 792.7,319.1 797.8,318.2 802.9,322.2 808.0,315.3 813.1,315.3 818.2,320.8 823.3,320.4 828.4,320.4 833.5,320.8 838.6,322.5 843.7,319.1 848.8,321.6 853.9,322.2 859.0,325.1 864.1,319.1 869.2,319.1 874.3,326.8 879.4,323.4 884.5,322.5 889.6,331.0 894.7,325.1 899.8,330.5 904.9,325.1 910.0,328.5 915.1,329.0 920.2,327.3 925.3,332.8 930.4,335.3 935.5,337.0 940.7,338.7 945.8,335.3 950.9,334.8 956.0,337.0 961.1,338.4 966.2,339.9 971.3,326.8 976.4,341.3 981.5,339.6 986.6,331.9 991.7,331.6 996.8,331.6 1001.9,330.7 1007.0,333.6 1012.1,332.4 1017.2,333.1 1022.3,329.0 1027.4,330.2 1032.5,329.0 1037.6,329.7 1042.7,331.0 1047.8,336.2 1052.9,330.2 1058.0,323.4 1063.1,328.5 1068.2,334.1 1073.3,330.2 1078.4,325.9 1083.5,328.0 1088.6,330.2 1093.7,326.8 1098.8,322.5 1104.0,325.9 1109.1,329.0 1114.2,327.3 1119.3,328.5 1124.4,329.3 1129.5,328.5 1134.6,331.9 1139.7,327.3 1144.8,326.8 1149.9,321.6 1155.0,327.6 1160.1,326.8 1165.2,318.2 1170.3,317.7 1175.4,319.4 1180.5,326.4 1185.6,322.2 1190.7,325.1 1195.8,325.9 1200.9,325.9 1206.0,327.6 1211.1,331.0 1216.2,327.6 1221.3,326.8 1226.4,327.3 1231.5,330.7 1236.6,331.0 1241.7,329.0 1246.8,329.0 1251.9,334.1 1257.0,335.3 1262.2,328.5 1267.3,331.0 1272.4,330.7 1277.5,332.4 1282.6,335.3 1287.7,335.3 1292.8,334.1 1297.9,339.6 1303.0,341.7 1308.1,343.0 1313.2,343.0 1318.3,343.4 1323.4,340.5 1328.5,328.5 1333.6,334.1 1338.7,334.8 1343.8,332.8 1348.9,335.8 1354.0,337.5 1359.1,339.6 1364.2,339.6 1369.3,339.3 1374.4,339.6 1379.5,339.6 1384.6,339.3 1389.7,339.6 1394.8,343.0 1399.9,343.9 1405.0,352.4 1410.1,351.6 1415.2,350.7 1420.3,343.9 1425.5,342.2 1430.6,336.7 1435.7,337.9 1440.8,337.9 1445.9,337.9 1451.0,337.0 1456.1,336.2 1461.2,336.2 1466.3,329.3 1471.4,333.6 1476.5,334.1 1481.6,334.1 1486.7,330.7 1491.8,331.9 1496.9,334.1 1502.0,331.4" stroke="#0072BD" stroke-width="1.6"/>
<polyline points="216.0,514.9 221.1,514.9 226.2,514.9 231.3,514.9 236.4,514.9 241.5,514.9 246.6,514.9 251.7,514.9 256.8,514.9 261.9,514.9 267.0,514.9 272.1,514.9 277.2,514.9 282.3,514.9 287.4,514.9 292.5,514.9 297.7,514.9 302.8,514.9 307.9,515.0 313.0,516.4 318.1,516.6 323.2,516.6 328.3,516.6 333.4,516.6 338.5,516.6 343.6,516.6 348.7,516.6 353.8,516.6 358.9,516.6 364.0,516.6 369.1,516.6 374.2,516.6 379.3,516.6 384.4,516.6 389.5,516.6 394.6,516.6 399.7,516.6 404.8,516.6 409.9,516.6 415.0,516.6 420.1,516.6 425.2,516.6 430.3,516.6 435.4,516.6 440.5,516.6 445.6,516.6 450.7,516.6 455.8,516.6 461.0,516.6 466.1,516.6 471.2,516.6 476.3,516.6 481.4,516.6 486.5,516.6 491.6,516.6 496.7,516.6 501.8,516.6 506.9,516.6 512.0,516.6 517.1,516.6 522.2,516.6 527.3,516.6 532.4,516.6 537.5,516.6 542.6,516.6 547.7,516.6 552.8,516.6 557.9,516.6 563.0,516.6 568.1,516.6 573.2,516.6 578.3,516.6 583.4,516.6 588.5,516.6 593.6,516.6 598.7,516.6 603.8,516.6 608.9,516.6 614.0,516.6 619.2,516.6 624.3,516.6 629.4,516.6 634.5,516.6 639.6,516.6 644.7,516.6 649.8,516.6 654.9,516.6 660.0,516.6 665.1,516.6 670.2,516.6 675.3,516.6 680.4,516.6 685.5,516.6 690.6,516.6 695.7,516.6 700.8,516.6 705.9,516.6 711.0,516.6 716.1,516.6 721.2,516.6 726.3,516.6 731.4,516.6 736.5,516.6 741.6,516.6 746.7,516.6 751.8,516.6 756.9,516.6 762.0,516.6 767.1,516.6 772.2,516.6 777.3,516.6 782.5,516.6 787.6,516.6 792.7,516.6 797.8,516.6 802.9,516.6 808.0,516.6 813.1,516.6 818.2,516.6 823.3,516.6 828.4,516.6 833.5,516.6 838.6,516.6 843.7,516.6 848.8,516.6 853.9,516.6 859.0,516.6 864.1,516.6 869.2,516.6 874.3,516.6 879.4,516.6 884.5,516.6 889.6,516.6 894.7,516.6 899.8,516.6 904.9,516.6 910.0,516.6 915.1,516.6 920.2,516.6 925.3,516.6 930.4,516.6 935.5,516.6 940.7,516.6 945.8,516.6 950.9,516.6 956.0,516.6 961.1,516.6 966.2,516.6 971.3,516.6 976.4,516.6 981.5,516.6 986.6,516.6 991.7,516.6 996.8,516.6 1001.9,516.6 1007.0,516.6 1012.1,516.6 1017.2,516.6 1022.3,516.6 1027.4,516.6 1032.5,516.6 1037.6,516.6 1042.7,516.6 1047.8,516.6 1052.9,516.6 1058.0,516.6 1063.1,516.6 1068.2,516.6 1073.3,516.6 1078.4,516.6 1083.5,516.6 1088.6,516.6 1093.7,516.6 1098.8,516.6 1104.0,516.6 1109.1,516.6 1114.2,516.6 1119.3,516.6 1124.4,516.6 1129.5,516.6 1134.6,516.6 1139.7,516.6 1144.8,516.6 1149.9,516.6 1155.0,516.6 1160.1,516.6 1165.2,516.6 1170.3,516.6 1175.4,516.6 1180.5,516.6 1185.6,516.6 1190.7,516.6 1195.8,516.6 1200.9,516.6 1206.0,516.6 1211.1,516.6 1216.2,516.6 1221.3,516.6 1226.4,516.6 1231.5,516.6 1236.6,516.6 1241.7,516.6 1246.8,516.6 1251.9,516.6 1257.0,516.6 1262.2,516.6 1267.3,516.6 1272.4,516.6 1277.5,516.6 1282.6,516.6 1287.7,516.6 1292.8,516.6 1297.9,516.6 1303.0,516.6 1308.1,516.6 1313.2,516.6 1318.3,516.6 1323.4,516.6 1328.5,516.6 1333.6,516.6 1338.7,516.6 1343.8,516.6 1348.9,516.6 1354.0,516.6 1359.1,516.6 1364.2,516.6 1369.3,516.6 1374.4,516.6 1379.5,516.6 1384.6,516.6 1389.7,516.6 1394.8,516.6 1399.9,516.6 1405.0,516.6 1410.1,516.6 1415.2,516.6 1420.3,516.6 1425.5,516.6 1430.6,516.6 1435.7,516.6 1440.8,516.6 1445.9,516.6 1451.0,516.6 1456.1,516.6 1461.2,516.6 1466.3,516.6 1471.4,516.6 1476.5,516.6 1481.6,516.6 1486.7,516.6 1491.8,516.6 1496.9,516.6 1502.0,516.6" stroke="#4DBEEE" stroke-width="1.8"/>
<polyline points="216.0,516.9 221.1,516.9 226.2,516.9 231.3,516.9 236.4,516.9 241.5,516.9 246.6,516.9 251.7,516.9 256.8,516.9 261.9,516.9 267.0,516.9 272.1,516.9 277.2,516.9 282.3,516.9 287.4,516.9 292.5,516.9 297.7,516.9 302.8,516.9 307.9,516.9 313.0,517.5 318.1,517.6 323.2,517.6 328.3,517.6 333.4,517.6 338.5,517.6 343.6,517.6 348.7,517.6 353.8,517.6 358.9,517.6 364.0,517.6 369.1,517.6 374.2,517.6 379.3,517.6 384.4,517.6 389.5,517.6 394.6,517.6 399.7,517.6 404.8,517.6 409.9,517.6 415.0,517.6 420.1,517.6 425.2,517.6 430.3,517.6 435.4,517.6 440.5,517.6 445.6,517.6 450.7,517.6 455.8,517.6 461.0,517.6 466.1,517.6 471.2,517.6 476.3,517.6 481.4,517.6 486.5,517.6 491.6,517.6 496.7,517.6 501.8,517.6 506.9,517.6 512.0,517.6 517.1,517.6 522.2,517.6 527.3,517.6 532.4,517.6 537.5,517.6 542.6,517.6 547.7,517.6 552.8,517.6 557.9,517.6 563.0,517.6 568.1,517.6 573.2,517.6 578.3,517.6 583.4,517.6 588.5,517.6 593.6,517.6 598.7,517.6 603.8,517.6 608.9,517.6 614.0,517.6 619.2,517.6 624.3,517.6 629.4,517.6 634.5,517.6 639.6,517.6 644.7,517.6 649.8,517.6 654.9,517.6 660.0,517.6 665.1,517.6 670.2,517.6 675.3,517.6 680.4,517.6 685.5,517.6 690.6,517.6 695.7,517.6 700.8,517.6 705.9,517.6 711.0,517.6 716.1,517.6 721.2,517.6 726.3,517.6 731.4,517.6 736.5,517.6 741.6,517.6 746.7,517.6 751.8,517.6 756.9,517.6 762.0,517.6 767.1,517.6 772.2,517.6 777.3,517.6 782.5,517.6 787.6,517.6 792.7,517.6 797.8,517.6 802.9,517.6 808.0,517.6 813.1,517.6 818.2,517.6 823.3,517.6 828.4,517.6 833.5,517.6 838.6,517.6 843.7,517.6 848.8,517.6 853.9,517.6 859.0,517.6 864.1,517.6 869.2,517.6 874.3,517.6 879.4,517.6 884.5,517.6 889.6,517.6 894.7,517.6 899.8,517.6 904.9,517.6 910.0,517.6 915.1,517.6 920.2,517.6 925.3,517.6 930.4,517.6 935.5,517.6 940.7,517.6 945.8,517.6 950.9,517.6 956.0,517.6 961.1,517.6 966.2,517.6 971.3,517.6 976.4,517.6 981.5,517.6 986.6,517.6 991.7,517.6 996.8,517.6 1001.9,517.6 1007.0,517.6 1012.1,517.6 1017.2,517.6 1022.3,517.6 1027.4,517.6 1032.5,517.6 1037.6,517.6 1042.7,517.6 1047.8,517.6 1052.9,517.6 1058.0,517.6 1063.1,517.6 1068.2,517.6 1073.3,517.6 1078.4,517.6 1083.5,517.6 1088.6,517.6 1093.7,517.6 1098.8,517.6 1104.0,517.6 1109.1,517.6 1114.2,517.6 1119.3,517.6 1124.4,517.6 1129.5,517.6 1134.6,517.6 1139.7,517.6 1144.8,517.6 1149.9,517.6 1155.0,517.6 1160.1,517.6 1165.2,517.6 1170.3,517.6 1175.4,517.6 1180.5,517.6 1185.6,517.6 1190.7,517.6 1195.8,517.6 1200.9,517.6 1206.0,517.6 1211.1,517.6 1216.2,517.6 1221.3,517.6 1226.4,517.6 1231.5,517.6 1236.6,517.6 1241.7,517.6 1246.8,517.6 1251.9,517.6 1257.0,517.6 1262.2,517.6 1267.3,517.6 1272.4,517.6 1277.5,517.6 1282.6,517.6 1287.7,517.6 1292.8,517.6 1297.9,517.6 1303.0,517.6 1308.1,517.6 1313.2,517.6 1318.3,517.6 1323.4,517.6 1328.5,517.6 1333.6,517.6 1338.7,517.6 1343.8,517.6 1348.9,517.6 1354.0,517.6 1359.1,517.6 1364.2,517.6 1369.3,517.6 1374.4,517.6 1379.5,517.6 1384.6,517.6 1389.7,517.6 1394.8,517.6 1399.9,517.6 1405.0,517.6 1410.1,517.6 1415.2,517.6 1420.3,517.6 1425.5,517.6 1430.6,517.6 1435.7,517.6 1440.8,517.6 1445.9,517.6 1451.0,517.6 1456.1,517.6 1461.2,517.6 1466.3,517.6 1471.4,517.6 1476.5,517.6 1481.6,517.6 1486.7,517.6 1491.8,517.6 1496.9,517.6 1502.0,517.6" stroke="#77AC30" stroke-width="1.9"/>
<polyline points="216.0,518.8 221.1,518.8 226.2,518.8 231.3,518.8 236.4,518.8 241.5,518.8 246.6,518.8 251.7,518.8 256.8,518.8 261.9,518.8 267.0,518.8 272.1,518.8 277.2,518.8 282.3,518.8 287.4,518.8 292.5,518.8 297.7,518.8 302.8,518.8 307.9,518.8 313.0,519.1 318.1,519.2 323.2,519.2 328.3,519.2 333.4,519.2 338.5,519.2 343.6,519.2 348.7,519.2 353.8,519.2 358.9,519.2 364.0,519.2 369.1,519.2 374.2,519.2 379.3,519.2 384.4,519.2 389.5,519.2 394.6,519.2 399.7,519.2 404.8,519.2 409.9,519.2 415.0,519.2 420.1,519.2 425.2,519.2 430.3,519.2 435.4,519.2 440.5,519.2 445.6,519.2 450.7,519.2 455.8,519.2 461.0,519.2 466.1,519.2 471.2,519.2 476.3,519.2 481.4,519.2 486.5,519.2 491.6,519.2 496.7,519.2 501.8,519.2 506.9,519.2 512.0,519.2 517.1,519.2 522.2,519.2 527.3,519.2 532.4,519.2 537.5,519.2 542.6,519.2 547.7,519.2 552.8,519.2 557.9,519.2 563.0,519.2 568.1,519.2 573.2,519.2 578.3,519.2 583.4,519.2 588.5,519.2 593.6,519.2 598.7,519.2 603.8,519.2 608.9,519.2 614.0,519.2 619.2,519.2 624.3,519.2 629.4,519.2 634.5,519.2 639.6,519.2 644.7,519.2 649.8,519.2 654.9,519.2 660.0,519.2 665.1,519.2 670.2,519.2 675.3,519.2 680.4,519.2 685.5,519.2 690.6,519.2 695.7,519.2 700.8,519.2 705.9,519.2 711.0,519.2 716.1,519.2 721.2,519.2 726.3,519.2 731.4,519.2 736.5,519.2 741.6,519.2 746.7,519.2 751.8,519.2 756.9,519.2 762.0,519.2 767.1,519.2 772.2,519.2 777.3,519.2 782.5,519.2 787.6,519.2 792.7,519.2 797.8,519.2 802.9,519.2 808.0,519.2 813.1,519.2 818.2,519.2 823.3,519.2 828.4,519.2 833.5,519.2 838.6,519.2 843.7,519.2 848.8,519.2 853.9,519.2 859.0,519.2 864.1,519.2 869.2,519.2 874.3,519.2 879.4,519.2 884.5,519.2 889.6,519.2 894.7,519.2 899.8,519.2 904.9,519.2 910.0,519.2 915.1,519.2 920.2,519.2 925.3,519.2 930.4,519.2 935.5,519.2 940.7,519.2 945.8,519.2 950.9,519.2 956.0,519.2 961.1,519.2 966.2,519.2 971.3,519.2 976.4,519.2 981.5,519.2 986.6,519.2 991.7,519.2 996.8,519.2 1001.9,519.2 1007.0,519.2 1012.1,519.2 1017.2,519.2 1022.3,519.2 1027.4,519.2 1032.5,519.2 1037.6,519.2 1042.7,519.2 1047.8,519.2 1052.9,519.2 1058.0,519.2 1063.1,519.2 1068.2,519.2 1073.3,519.2 1078.4,519.2 1083.5,519.2 1088.6,519.2 1093.7,519.2 1098.8,519.2 1104.0,519.2 1109.1,519.2 1114.2,519.2 1119.3,519.2 1124.4,519.2 1129.5,519.2 1134.6,519.2 1139.7,519.2 1144.8,519.2 1149.9,519.2 1155.0,519.2 1160.1,519.2 1165.2,519.2 1170.3,519.2 1175.4,519.2 1180.5,519.2 1185.6,519.2 1190.7,519.2 1195.8,519.2 1200.9,519.2 1206.0,519.2 1211.1,519.2 1216.2,519.2 1221.3,519.2 1226.4,519.2 1231.5,519.2 1236.6,519.2 1241.7,519.2 1246.8,519.2 1251.9,519.2 1257.0,519.2 1262.2,519.2 1267.3,519.2 1272.4,519.2 1277.5,519.2 1282.6,519.2 1287.7,519.2 1292.8,519.2 1297.9,519.2 1303.0,519.2 1308.1,519.2 1313.2,519.2 1318.3,519.2 1323.4,519.2 1328.5,519.2 1333.6,519.2 1338.7,519.2 1343.8,519.2 1348.9,519.2 1354.0,519.2 1359.1,519.2 1364.2,519.2 1369.3,519.2 1374.4,519.2 1379.5,519.2 1384.6,519.2 1389.7,519.2 1394.8,519.2 1399.9,519.2 1405.0,519.2 1410.1,519.2 1415.2,519.2 1420.3,519.2 1425.5,519.2 1430.6,519.2 1435.7,519.2 1440.8,519.2 1445.9,519.2 1451.0,519.2 1456.1,519.2 1461.2,519.2 1466.3,519.2 1471.4,519.2 1476.5,519.2 1481.6,519.2 1486.7,519.2 1491.8,519.2 1496.9,519.2 1502.0,519.2" stroke="#5C2749" stroke-width="1.4"/>
<polyline points="216.0,71.6 221.1,89.3 226.2,92.2 231.3,91.1 236.4,87.8 241.5,90.0 246.6,80.4 251.7,86.2 256.8,72.7 261.9,87.8 267.0,88.0 272.1,83.6 277.2,90.4 282.3,84.0 287.4,76.7 292.5,86.0 297.7,99.6 302.8,78.9 307.9,104.0 313.0,113.8 318.1,120.4 323.2,126.0 328.3,100.0 333.4,82.7 338.5,126.0 343.6,95.6 348.7,91.8 353.8,94.2 358.9,88.2 364.0,67.8 369.1,97.3 374.2,77.8 379.3,103.3 384.4,85.8 389.5,87.6 394.6,85.3 399.7,74.0 404.8,68.0 409.9,67.8 415.0,76.2 420.1,77.3 425.2,79.1 430.3,127.8 435.4,128.9 440.5,119.6 445.6,75.1 450.7,70.4 455.8,75.1 461.0,121.6 466.1,125.1 471.2,78.2 476.3,73.6 481.4,136.0 486.5,58.9 491.6,70.4 496.7,54.4 501.8,112.2 506.9,125.6 512.0,118.7 517.1,124.0 522.2,129.6 527.3,121.6 532.4,134.7 537.5,124.4 542.6,134.0 547.7,134.7 552.8,133.6 557.9,121.8 563.0,117.3 568.1,92.7 573.2,82.2 578.3,90.9 583.4,89.1 588.5,70.4 593.6,98.4 598.7,83.3 603.8,79.6 608.9,83.3 614.0,63.3 619.2,66.7 624.3,74.4 629.4,80.0 634.5,83.6 639.6,68.4 644.7,68.2 649.8,75.6 654.9,97.1 660.0,76.9 665.1,82.2 670.2,80.0 675.3,90.4 680.4,73.8 685.5,125.3 690.6,79.6 695.7,66.2 700.8,67.6 705.9,82.7 711.0,111.3 716.1,94.4 721.2,131.1 726.3,52.2 731.4,83.6 736.5,81.1 741.6,74.0 746.7,60.9 751.8,58.7 756.9,59.3 762.0,105.1 767.1,74.4 772.2,56.7 777.3,57.6 782.5,55.1 787.6,83.1 792.7,59.6 797.8,60.0 802.9,82.2 808.0,138.2 813.1,134.4 818.2,83.3 823.3,70.7 828.4,70.7 833.5,80.0 838.6,89.3 843.7,71.6 848.8,88.9 853.9,86.7 859.0,91.8 864.1,77.3 869.2,74.7 874.3,92.9 879.4,68.4 884.5,84.0 889.6,120.4 894.7,102.4 899.8,123.1 904.9,100.4 910.0,109.6 915.1,103.3 920.2,92.9 925.3,102.9 930.4,107.3 935.5,110.0 940.7,134.4 945.8,140.9 950.9,137.3 956.0,138.9 961.1,149.8 966.2,148.4 971.3,129.6 976.4,149.1 981.5,145.3 986.6,111.8 991.7,114.4 996.8,104.9 1001.9,104.7 1007.0,107.1 1012.1,112.2 1017.2,106.7 1022.3,100.0 1027.4,95.8 1032.5,98.7 1037.6,108.4 1042.7,121.1 1047.8,91.6 1052.9,90.0 1058.0,85.1 1063.1,87.8 1068.2,93.3 1073.3,136.0 1078.4,84.4 1083.5,98.9 1088.6,99.6 1093.7,104.4 1098.8,93.3 1104.0,102.9 1109.1,112.4 1114.2,118.4 1119.3,133.6 1124.4,121.8 1129.5,106.7 1134.6,138.0 1139.7,106.7 1144.8,110.2 1149.9,124.9 1155.0,134.9 1160.1,126.7 1165.2,98.2 1170.3,102.9 1175.4,98.4 1180.5,113.3 1185.6,93.3 1190.7,111.8 1195.8,110.2 1200.9,105.8 1206.0,102.2 1211.1,107.1 1216.2,139.8 1221.3,129.6 1226.4,102.9 1231.5,132.7 1236.6,137.8 1241.7,133.3 1246.8,130.4 1251.9,111.8 1257.0,128.9 1262.2,133.3 1267.3,138.2 1272.4,133.9 1277.5,102.6 1282.6,137.3 1287.7,140.4 1292.8,136.7 1297.9,145.1 1303.0,146.0 1308.1,147.8 1313.2,160.9 1318.3,156.4 1323.4,152.9 1328.5,132.9 1333.6,133.1 1338.7,144.7 1343.8,128.4 1348.9,137.1 1354.0,123.8 1359.1,140.7 1364.2,149.6 1369.3,135.6 1374.4,152.2 1379.5,148.0 1384.6,124.0 1389.7,125.8 1394.8,119.3 1399.9,125.6 1405.0,132.9 1410.1,122.9 1415.2,166.0 1420.3,163.6 1425.5,156.7 1430.6,147.6 1435.7,122.4 1440.8,130.0 1445.9,152.2 1451.0,143.3 1456.1,153.8 1461.2,157.3 1466.3,125.3 1471.4,131.1 1476.5,138.2 1481.6,145.1 1486.7,139.6 1491.8,144.2 1496.9,145.1 1502.0,144.4" stroke="#4DBEEE" stroke-width="1.6"/>
</g>
<g class="t" text-anchor="middle">
<text transform="translate(465.2,547.4) scale(0.95,1)">50</text>
<text transform="translate(720.3,547.4) scale(0.95,1)">100</text>
<text transform="translate(975.5,547.4) scale(0.95,1)">150</text>
<text transform="translate(1230.6,547.4) scale(0.95,1)">200</text>
<text transform="translate(1485.8,547.4) scale(0.95,1)">250</text>
</g><g class="t" text-anchor="end">
<text transform="translate(207.7,526.5) scale(0.95,1)">0</text>
<text transform="translate(207.7,447.3) scale(0.95,1)">200</text>
<text transform="translate(207.7,368.2) scale(0.95,1)">400</text>
<text transform="translate(207.7,289.0) scale(0.95,1)">600</text>
<text transform="translate(207.7,209.8) scale(0.95,1)">800</text>
<text transform="translate(207.7,130.7) scale(0.95,1)">1000</text>
<text transform="translate(207.7,51.5) scale(0.95,1)">1200</text>
</g>
<text class="l" text-anchor="middle" transform="translate(858.2,576.6) scale(0.96,1)">Samples</text>
<text class="l" text-anchor="middle" transform="translate(155,281.4) rotate(-90) scale(0.96,1)">Value</text>
</svg></body></html>
